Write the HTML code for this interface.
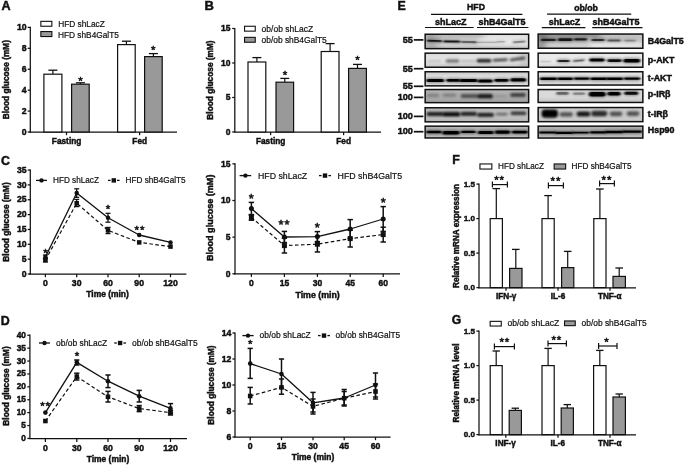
<!DOCTYPE html>
<html lang="en"><head><meta charset="utf-8"><title>Figure</title>
<style>
html,body{margin:0;padding:0;background:#fff;}
body{width:685px;height:465px;overflow:hidden;}
svg{display:block;font-family:"Liberation Sans", Arial, sans-serif;}
</style></head><body>
<svg width="685" height="465" viewBox="0 0 685 465">
<rect width="685" height="465" fill="#fff"/>
<defs>
<filter id="bl1" x="-20%" y="-200%" width="140%" height="500%"><feGaussianBlur stdDeviation="0.9 0.55"/></filter>
<filter id="bl2" x="-20%" y="-200%" width="140%" height="500%"><feGaussianBlur stdDeviation="1.4 1.2"/></filter>
<filter id="bl4" x="-20%" y="-200%" width="140%" height="500%"><feGaussianBlur stdDeviation="1.2 0.9"/></filter>
<filter id="bl3" x="-50%" y="-100%" width="200%" height="300%"><feGaussianBlur stdDeviation="3 1.6"/></filter>
</defs>
<text x="1.50" y="10.40" font-size="12.6" font-weight="700" stroke="#101010" stroke-width="0.45" text-anchor="start" fill="#101010">A</text>
<line x1="30.30" y1="26.77" x2="30.30" y2="132.62" stroke="#101010" stroke-width="1.25" stroke-linecap="butt"/>
<line x1="27.70" y1="132.00" x2="30.30" y2="132.00" stroke="#101010" stroke-width="1.25" stroke-linecap="butt"/>
<text x="26.70" y="134.61" font-size="8.7" font-weight="700" stroke="#101010" stroke-width="0.45" text-anchor="end" fill="#101010">0</text>
<line x1="27.70" y1="111.08" x2="30.30" y2="111.08" stroke="#101010" stroke-width="1.25" stroke-linecap="butt"/>
<text x="26.70" y="113.69" font-size="8.7" font-weight="700" stroke="#101010" stroke-width="0.45" text-anchor="end" fill="#101010">2</text>
<line x1="27.70" y1="90.16" x2="30.30" y2="90.16" stroke="#101010" stroke-width="1.25" stroke-linecap="butt"/>
<text x="26.70" y="92.77" font-size="8.7" font-weight="700" stroke="#101010" stroke-width="0.45" text-anchor="end" fill="#101010">4</text>
<line x1="27.70" y1="69.24" x2="30.30" y2="69.24" stroke="#101010" stroke-width="1.25" stroke-linecap="butt"/>
<text x="26.70" y="71.85" font-size="8.7" font-weight="700" stroke="#101010" stroke-width="0.45" text-anchor="end" fill="#101010">6</text>
<line x1="27.70" y1="48.32" x2="30.30" y2="48.32" stroke="#101010" stroke-width="1.25" stroke-linecap="butt"/>
<text x="26.70" y="50.93" font-size="8.7" font-weight="700" stroke="#101010" stroke-width="0.45" text-anchor="end" fill="#101010">8</text>
<line x1="27.70" y1="27.40" x2="30.30" y2="27.40" stroke="#101010" stroke-width="1.25" stroke-linecap="butt"/>
<text x="26.70" y="30.01" font-size="8.7" font-weight="700" stroke="#101010" stroke-width="0.45" text-anchor="end" fill="#101010">10</text>
<line x1="29.38" y1="132.15" x2="177.00" y2="132.15" stroke="#101010" stroke-width="1.25" stroke-linecap="butt"/>
<line x1="66.50" y1="132.00" x2="66.50" y2="135.15" stroke="#101010" stroke-width="1.25" stroke-linecap="butt"/>
<line x1="139.60" y1="132.00" x2="139.60" y2="135.15" stroke="#101010" stroke-width="1.25" stroke-linecap="butt"/>
<text x="9.20" y="79.70" font-size="8.3" font-weight="700" stroke="#101010" stroke-width="0.45" text-anchor="middle" transform="rotate(-90 9.20 79.70)" fill="#101010">Blood glucose (mM)</text>
<text x="66.60" y="144.00" font-size="8.3" font-weight="700" stroke="#101010" stroke-width="0.45" text-anchor="middle" fill="#101010">Fasting</text>
<text x="139.70" y="144.00" font-size="8.3" font-weight="700" stroke="#101010" stroke-width="0.45" text-anchor="middle" fill="#101010">Fed</text>
<line x1="52.90" y1="70.20" x2="52.90" y2="74.20" stroke="#101010" stroke-width="1.2" stroke-linecap="butt"/>
<line x1="48.40" y1="70.20" x2="57.40" y2="70.20" stroke="#101010" stroke-width="1.3" stroke-linecap="butt"/>
<rect x="43.90" y="74.20" width="18.00" height="57.80" fill="#fff" stroke="#101010" stroke-width="1.2"/>
<line x1="80.40" y1="82.80" x2="80.40" y2="84.20" stroke="#101010" stroke-width="1.2" stroke-linecap="butt"/>
<line x1="75.90" y1="82.80" x2="84.90" y2="82.80" stroke="#101010" stroke-width="1.3" stroke-linecap="butt"/>
<rect x="71.60" y="84.20" width="17.60" height="47.80" fill="#999999" stroke="#101010" stroke-width="1.2"/>
<line x1="126.40" y1="41.20" x2="126.40" y2="44.60" stroke="#101010" stroke-width="1.2" stroke-linecap="butt"/>
<line x1="121.90" y1="41.20" x2="130.90" y2="41.20" stroke="#101010" stroke-width="1.3" stroke-linecap="butt"/>
<rect x="117.60" y="44.60" width="17.60" height="87.40" fill="#fff" stroke="#101010" stroke-width="1.2"/>
<line x1="153.40" y1="53.60" x2="153.40" y2="56.60" stroke="#101010" stroke-width="1.2" stroke-linecap="butt"/>
<line x1="148.90" y1="53.60" x2="157.90" y2="53.60" stroke="#101010" stroke-width="1.3" stroke-linecap="butt"/>
<rect x="144.60" y="56.60" width="17.60" height="75.40" fill="#999999" stroke="#101010" stroke-width="1.2"/>
<text x="80.40" y="84.76" font-size="11.5" stroke="#101010" text-anchor="middle" fill="#101010" stroke-width="0.5">*</text>
<text x="153.20" y="54.35" font-size="11.5" stroke="#101010" text-anchor="middle" fill="#101010" stroke-width="0.5">*</text>
<rect x="40.85" y="21.35" width="11.00" height="4.90" fill="#fff" stroke="#101010" stroke-width="1.1"/>
<rect x="40.85" y="31.55" width="11.00" height="5.00" fill="#999999" stroke="#101010" stroke-width="1.1"/>
<text x="58.20" y="27.00" font-size="8.3" stroke="#101010" stroke-width="0.2" text-anchor="start" fill="#101010">HFD shLacZ</text>
<text x="58.00" y="37.60" font-size="8.3" stroke="#101010" stroke-width="0.2" text-anchor="start" fill="#101010">HFD shB4GalT5</text>
<text x="204.60" y="10.40" font-size="13" font-weight="700" stroke="#101010" stroke-width="0.45" text-anchor="start" fill="#101010">B</text>
<line x1="234.80" y1="27.88" x2="234.80" y2="132.62" stroke="#101010" stroke-width="1.25" stroke-linecap="butt"/>
<line x1="232.20" y1="132.00" x2="234.80" y2="132.00" stroke="#101010" stroke-width="1.25" stroke-linecap="butt"/>
<text x="230.40" y="134.55" font-size="8.5" font-weight="700" stroke="#101010" stroke-width="0.45" text-anchor="end" fill="#101010">0</text>
<line x1="232.20" y1="97.50" x2="234.80" y2="97.50" stroke="#101010" stroke-width="1.25" stroke-linecap="butt"/>
<text x="230.40" y="100.05" font-size="8.5" font-weight="700" stroke="#101010" stroke-width="0.45" text-anchor="end" fill="#101010">5</text>
<line x1="232.20" y1="63.00" x2="234.80" y2="63.00" stroke="#101010" stroke-width="1.25" stroke-linecap="butt"/>
<text x="230.40" y="65.55" font-size="8.5" font-weight="700" stroke="#101010" stroke-width="0.45" text-anchor="end" fill="#101010">10</text>
<line x1="232.20" y1="28.50" x2="234.80" y2="28.50" stroke="#101010" stroke-width="1.25" stroke-linecap="butt"/>
<text x="230.40" y="31.05" font-size="8.5" font-weight="700" stroke="#101010" stroke-width="0.45" text-anchor="end" fill="#101010">15</text>
<line x1="234.38" y1="132.15" x2="381.00" y2="132.15" stroke="#101010" stroke-width="1.25" stroke-linecap="butt"/>
<line x1="270.60" y1="132.00" x2="270.60" y2="135.15" stroke="#101010" stroke-width="1.25" stroke-linecap="butt"/>
<line x1="343.60" y1="132.00" x2="343.60" y2="135.15" stroke="#101010" stroke-width="1.25" stroke-linecap="butt"/>
<text x="212.50" y="80.00" font-size="8.3" font-weight="700" stroke="#101010" stroke-width="0.45" text-anchor="middle" transform="rotate(-90 212.50 80.00)" fill="#101010">Blood glucose (mM)</text>
<text x="270.70" y="143.70" font-size="8.3" font-weight="700" stroke="#101010" stroke-width="0.45" text-anchor="middle" fill="#101010">Fasting</text>
<text x="343.60" y="143.70" font-size="8.3" font-weight="700" stroke="#101010" stroke-width="0.45" text-anchor="middle" fill="#101010">Fed</text>
<line x1="256.90" y1="57.60" x2="256.90" y2="62.00" stroke="#101010" stroke-width="1.2" stroke-linecap="butt"/>
<line x1="252.40" y1="57.60" x2="261.40" y2="57.60" stroke="#101010" stroke-width="1.3" stroke-linecap="butt"/>
<rect x="248.00" y="62.00" width="17.80" height="70.00" fill="#fff" stroke="#101010" stroke-width="1.2"/>
<line x1="284.80" y1="78.40" x2="284.80" y2="82.20" stroke="#101010" stroke-width="1.2" stroke-linecap="butt"/>
<line x1="280.30" y1="78.40" x2="289.30" y2="78.40" stroke="#101010" stroke-width="1.3" stroke-linecap="butt"/>
<rect x="276.00" y="82.20" width="17.60" height="49.80" fill="#999999" stroke="#101010" stroke-width="1.2"/>
<line x1="330.10" y1="43.60" x2="330.10" y2="51.50" stroke="#101010" stroke-width="1.2" stroke-linecap="butt"/>
<line x1="325.60" y1="43.60" x2="334.60" y2="43.60" stroke="#101010" stroke-width="1.3" stroke-linecap="butt"/>
<rect x="321.20" y="51.50" width="17.80" height="80.50" fill="#fff" stroke="#101010" stroke-width="1.2"/>
<line x1="357.50" y1="64.40" x2="357.50" y2="68.40" stroke="#101010" stroke-width="1.2" stroke-linecap="butt"/>
<line x1="353.00" y1="64.40" x2="362.00" y2="64.40" stroke="#101010" stroke-width="1.3" stroke-linecap="butt"/>
<rect x="348.60" y="68.40" width="17.80" height="63.60" fill="#999999" stroke="#101010" stroke-width="1.2"/>
<text x="285.00" y="79.36" font-size="11.5" stroke="#101010" text-anchor="middle" fill="#101010" stroke-width="0.5">*</text>
<text x="357.40" y="63.95" font-size="11.5" stroke="#101010" text-anchor="middle" fill="#101010" stroke-width="0.5">*</text>
<rect x="244.55" y="26.25" width="10.70" height="4.90" fill="#fff" stroke="#101010" stroke-width="1.1"/>
<rect x="244.55" y="37.35" width="10.70" height="4.90" fill="#999999" stroke="#101010" stroke-width="1.1"/>
<text x="261.60" y="31.70" font-size="8.5" stroke="#101010" stroke-width="0.2" text-anchor="start" fill="#101010">ob/ob shLacZ</text>
<text x="261.60" y="42.80" font-size="8.4" stroke="#101010" stroke-width="0.2" text-anchor="start" fill="#101010">ob/ob shB4GalT5</text>
<text x="1.00" y="165.00" font-size="12.4" font-weight="700" stroke="#101010" stroke-width="0.45" text-anchor="start" fill="#101010">C</text>
<line x1="30.30" y1="169.43" x2="30.30" y2="274.62" stroke="#101010" stroke-width="1.25" stroke-linecap="butt"/>
<line x1="27.70" y1="274.00" x2="30.30" y2="274.00" stroke="#101010" stroke-width="1.25" stroke-linecap="butt"/>
<text x="26.70" y="276.61" font-size="8.7" font-weight="700" stroke="#101010" stroke-width="0.45" text-anchor="end" fill="#101010">0</text>
<line x1="27.70" y1="259.15" x2="30.30" y2="259.15" stroke="#101010" stroke-width="1.25" stroke-linecap="butt"/>
<text x="26.70" y="261.76" font-size="8.7" font-weight="700" stroke="#101010" stroke-width="0.45" text-anchor="end" fill="#101010">5</text>
<line x1="27.70" y1="244.30" x2="30.30" y2="244.30" stroke="#101010" stroke-width="1.25" stroke-linecap="butt"/>
<text x="26.70" y="246.91" font-size="8.7" font-weight="700" stroke="#101010" stroke-width="0.45" text-anchor="end" fill="#101010">10</text>
<line x1="27.70" y1="229.45" x2="30.30" y2="229.45" stroke="#101010" stroke-width="1.25" stroke-linecap="butt"/>
<text x="26.70" y="232.06" font-size="8.7" font-weight="700" stroke="#101010" stroke-width="0.45" text-anchor="end" fill="#101010">15</text>
<line x1="27.70" y1="214.60" x2="30.30" y2="214.60" stroke="#101010" stroke-width="1.25" stroke-linecap="butt"/>
<text x="26.70" y="217.21" font-size="8.7" font-weight="700" stroke="#101010" stroke-width="0.45" text-anchor="end" fill="#101010">20</text>
<line x1="27.70" y1="199.75" x2="30.30" y2="199.75" stroke="#101010" stroke-width="1.25" stroke-linecap="butt"/>
<text x="26.70" y="202.36" font-size="8.7" font-weight="700" stroke="#101010" stroke-width="0.45" text-anchor="end" fill="#101010">25</text>
<line x1="27.70" y1="184.90" x2="30.30" y2="184.90" stroke="#101010" stroke-width="1.25" stroke-linecap="butt"/>
<text x="26.70" y="187.51" font-size="8.7" font-weight="700" stroke="#101010" stroke-width="0.45" text-anchor="end" fill="#101010">30</text>
<line x1="27.70" y1="170.05" x2="30.30" y2="170.05" stroke="#101010" stroke-width="1.25" stroke-linecap="butt"/>
<text x="26.70" y="172.66" font-size="8.7" font-weight="700" stroke="#101010" stroke-width="0.45" text-anchor="end" fill="#101010">35</text>
<line x1="29.38" y1="274.15" x2="186.40" y2="274.15" stroke="#101010" stroke-width="1.25" stroke-linecap="butt"/>
<line x1="45.40" y1="274.00" x2="45.40" y2="277.15" stroke="#101010" stroke-width="1.25" stroke-linecap="butt"/>
<text x="45.40" y="285.70" font-size="8.7" font-weight="700" stroke="#101010" stroke-width="0.45" text-anchor="middle" fill="#101010">0</text>
<line x1="76.70" y1="274.00" x2="76.70" y2="277.15" stroke="#101010" stroke-width="1.25" stroke-linecap="butt"/>
<text x="76.70" y="285.70" font-size="8.7" font-weight="700" stroke="#101010" stroke-width="0.45" text-anchor="middle" fill="#101010">30</text>
<line x1="108.00" y1="274.00" x2="108.00" y2="277.15" stroke="#101010" stroke-width="1.25" stroke-linecap="butt"/>
<text x="108.00" y="285.70" font-size="8.7" font-weight="700" stroke="#101010" stroke-width="0.45" text-anchor="middle" fill="#101010">60</text>
<line x1="139.20" y1="274.00" x2="139.20" y2="277.15" stroke="#101010" stroke-width="1.25" stroke-linecap="butt"/>
<text x="139.20" y="285.70" font-size="8.7" font-weight="700" stroke="#101010" stroke-width="0.45" text-anchor="middle" fill="#101010">90</text>
<line x1="170.50" y1="274.00" x2="170.50" y2="277.15" stroke="#101010" stroke-width="1.25" stroke-linecap="butt"/>
<text x="170.50" y="285.70" font-size="8.7" font-weight="700" stroke="#101010" stroke-width="0.45" text-anchor="middle" fill="#101010">120</text>
<text x="9.20" y="222.00" font-size="8.3" font-weight="700" stroke="#101010" stroke-width="0.45" text-anchor="middle" transform="rotate(-90 9.20 222.00)" fill="#101010">Blood glucose (mM)</text>
<text x="107.60" y="296.60" font-size="8.45" font-weight="700" stroke="#101010" stroke-width="0.45" text-anchor="middle" fill="#101010">Time (min)</text>
<polyline points="45.40,260.00 76.70,203.20 108.00,230.40 139.20,242.40 170.50,246.60" fill="none" stroke="#101010" stroke-width="1.2" stroke-dasharray="3.6 2.4" stroke-linejoin="round"/>
<polyline points="45.40,257.00 76.70,193.00 108.00,217.80 139.20,235.00 170.50,242.40" fill="none" stroke="#101010" stroke-width="1.3" stroke-linejoin="round"/>
<line x1="45.40" y1="258.00" x2="45.40" y2="262.00" stroke="#101010" stroke-width="1.25" stroke-linecap="butt"/>
<line x1="42.90" y1="258.00" x2="47.90" y2="258.00" stroke="#101010" stroke-width="1.25" stroke-linecap="butt"/>
<line x1="42.90" y1="262.00" x2="47.90" y2="262.00" stroke="#101010" stroke-width="1.25" stroke-linecap="butt"/>
<rect x="43.15" y="257.75" width="4.5" height="4.5" fill="#101010"/>
<line x1="76.70" y1="199.40" x2="76.70" y2="206.60" stroke="#101010" stroke-width="1.25" stroke-linecap="butt"/>
<line x1="74.20" y1="199.40" x2="79.20" y2="199.40" stroke="#101010" stroke-width="1.25" stroke-linecap="butt"/>
<line x1="74.20" y1="206.60" x2="79.20" y2="206.60" stroke="#101010" stroke-width="1.25" stroke-linecap="butt"/>
<rect x="74.45" y="200.95" width="4.5" height="4.5" fill="#101010"/>
<line x1="108.00" y1="227.40" x2="108.00" y2="233.60" stroke="#101010" stroke-width="1.25" stroke-linecap="butt"/>
<line x1="105.50" y1="227.40" x2="110.50" y2="227.40" stroke="#101010" stroke-width="1.25" stroke-linecap="butt"/>
<line x1="105.50" y1="233.60" x2="110.50" y2="233.60" stroke="#101010" stroke-width="1.25" stroke-linecap="butt"/>
<rect x="105.75" y="228.15" width="4.5" height="4.5" fill="#101010"/>
<rect x="136.95" y="240.15" width="4.5" height="4.5" fill="#101010"/>
<rect x="168.25" y="244.35" width="4.5" height="4.5" fill="#101010"/>
<line x1="45.40" y1="255.00" x2="45.40" y2="259.00" stroke="#101010" stroke-width="1.25" stroke-linecap="butt"/>
<line x1="42.90" y1="255.00" x2="47.90" y2="255.00" stroke="#101010" stroke-width="1.25" stroke-linecap="butt"/>
<line x1="42.90" y1="259.00" x2="47.90" y2="259.00" stroke="#101010" stroke-width="1.25" stroke-linecap="butt"/>
<circle cx="45.40" cy="257.00" r="2.25" fill="#101010"/>
<line x1="76.70" y1="188.80" x2="76.70" y2="197.40" stroke="#101010" stroke-width="1.25" stroke-linecap="butt"/>
<line x1="74.20" y1="188.80" x2="79.20" y2="188.80" stroke="#101010" stroke-width="1.25" stroke-linecap="butt"/>
<line x1="74.20" y1="197.40" x2="79.20" y2="197.40" stroke="#101010" stroke-width="1.25" stroke-linecap="butt"/>
<circle cx="76.70" cy="193.00" r="2.25" fill="#101010"/>
<line x1="108.00" y1="213.30" x2="108.00" y2="222.20" stroke="#101010" stroke-width="1.25" stroke-linecap="butt"/>
<line x1="105.50" y1="213.30" x2="110.50" y2="213.30" stroke="#101010" stroke-width="1.25" stroke-linecap="butt"/>
<line x1="105.50" y1="222.20" x2="110.50" y2="222.20" stroke="#101010" stroke-width="1.25" stroke-linecap="butt"/>
<circle cx="108.00" cy="217.80" r="2.25" fill="#101010"/>
<circle cx="139.20" cy="235.00" r="2.25" fill="#101010"/>
<circle cx="170.50" cy="242.40" r="2.25" fill="#101010"/>
<text x="45.40" y="257.36" font-size="11.5" stroke="#101010" text-anchor="middle" fill="#101010" stroke-width="0.5">*</text>
<text x="108.00" y="213.36" font-size="11.5" stroke="#101010" text-anchor="middle" fill="#101010" stroke-width="0.5">*</text>
<text x="140.00" y="234.36" font-size="11.5" stroke="#101010" text-anchor="middle" fill="#101010" stroke-width="0.5" letter-spacing="0.9">**</text>
<line x1="36.00" y1="180.40" x2="47.00" y2="180.40" stroke="#101010" stroke-width="1.3" stroke-linecap="butt"/>
<circle cx="41.50" cy="180.40" r="2.2" fill="#101010"/>
<text x="53.00" y="182.80" font-size="8.2" stroke="#101010" stroke-width="0.2" text-anchor="start" fill="#101010">HFD shLacZ</text>
<line x1="108.00" y1="180.40" x2="110.60" y2="180.40" stroke="#101010" stroke-width="1.3" stroke-linecap="butt"/>
<line x1="117.00" y1="180.40" x2="119.60" y2="180.40" stroke="#101010" stroke-width="1.3" stroke-linecap="butt"/>
<rect x="111.60" y="178.20" width="4.4" height="4.4" fill="#101010"/>
<text x="125.60" y="182.80" font-size="8.2" stroke="#101010" stroke-width="0.2" text-anchor="start" fill="#101010">HFD shB4GalT5</text>
<line x1="235.00" y1="163.23" x2="235.00" y2="274.43" stroke="#101010" stroke-width="1.25" stroke-linecap="butt"/>
<line x1="232.40" y1="273.80" x2="235.00" y2="273.80" stroke="#101010" stroke-width="1.25" stroke-linecap="butt"/>
<text x="0.00" y="0.00" font-size="9.5" font-weight="700" stroke="#101010" stroke-width="0.45" text-anchor="end" transform="translate(230.60 276.65) scale(0.9 1)" fill="#101010">0</text>
<line x1="232.40" y1="237.15" x2="235.00" y2="237.15" stroke="#101010" stroke-width="1.25" stroke-linecap="butt"/>
<text x="0.00" y="0.00" font-size="9.5" font-weight="700" stroke="#101010" stroke-width="0.45" text-anchor="end" transform="translate(230.60 240.00) scale(0.9 1)" fill="#101010">5</text>
<line x1="232.40" y1="200.50" x2="235.00" y2="200.50" stroke="#101010" stroke-width="1.25" stroke-linecap="butt"/>
<text x="0.00" y="0.00" font-size="9.5" font-weight="700" stroke="#101010" stroke-width="0.45" text-anchor="end" transform="translate(230.60 203.35) scale(0.9 1)" fill="#101010">10</text>
<line x1="232.40" y1="163.85" x2="235.00" y2="163.85" stroke="#101010" stroke-width="1.25" stroke-linecap="butt"/>
<text x="0.00" y="0.00" font-size="9.5" font-weight="700" stroke="#101010" stroke-width="0.45" text-anchor="end" transform="translate(230.60 166.70) scale(0.9 1)" fill="#101010">15</text>
<line x1="234.38" y1="273.95" x2="400.00" y2="273.95" stroke="#101010" stroke-width="1.25" stroke-linecap="butt"/>
<line x1="251.40" y1="273.80" x2="251.40" y2="276.95" stroke="#101010" stroke-width="1.25" stroke-linecap="butt"/>
<text x="0.00" y="0.00" font-size="9.6" font-weight="700" stroke="#101010" stroke-width="0.45" text-anchor="middle" transform="translate(251.40 286.40) scale(0.89 1)" fill="#101010">0</text>
<line x1="284.40" y1="273.80" x2="284.40" y2="276.95" stroke="#101010" stroke-width="1.25" stroke-linecap="butt"/>
<text x="0.00" y="0.00" font-size="9.6" font-weight="700" stroke="#101010" stroke-width="0.45" text-anchor="middle" transform="translate(284.40 286.40) scale(0.89 1)" fill="#101010">15</text>
<line x1="317.40" y1="273.80" x2="317.40" y2="276.95" stroke="#101010" stroke-width="1.25" stroke-linecap="butt"/>
<text x="0.00" y="0.00" font-size="9.6" font-weight="700" stroke="#101010" stroke-width="0.45" text-anchor="middle" transform="translate(317.40 286.40) scale(0.89 1)" fill="#101010">30</text>
<line x1="350.20" y1="273.80" x2="350.20" y2="276.95" stroke="#101010" stroke-width="1.25" stroke-linecap="butt"/>
<text x="0.00" y="0.00" font-size="9.6" font-weight="700" stroke="#101010" stroke-width="0.45" text-anchor="middle" transform="translate(350.20 286.40) scale(0.89 1)" fill="#101010">45</text>
<line x1="383.20" y1="273.80" x2="383.20" y2="276.95" stroke="#101010" stroke-width="1.25" stroke-linecap="butt"/>
<text x="0.00" y="0.00" font-size="9.6" font-weight="700" stroke="#101010" stroke-width="0.45" text-anchor="middle" transform="translate(383.20 286.40) scale(0.89 1)" fill="#101010">60</text>
<text x="213.40" y="217.80" font-size="9.05" font-weight="700" stroke="#101010" stroke-width="0.45" text-anchor="middle" transform="rotate(-90 213.40 217.80)" fill="#101010">Blood glucose (mM)</text>
<text x="317.60" y="297.60" font-size="8.8" font-weight="700" stroke="#101010" stroke-width="0.45" text-anchor="middle" fill="#101010">Time (min)</text>
<polyline points="251.40,217.40 284.40,245.60 317.40,244.20 350.20,238.60 383.20,234.60" fill="none" stroke="#101010" stroke-width="1.2" stroke-dasharray="3.6 2.4" stroke-linejoin="round"/>
<polyline points="251.40,208.60 284.40,237.00 317.40,236.60 350.20,229.00 383.20,219.00" fill="none" stroke="#101010" stroke-width="1.3" stroke-linejoin="round"/>
<line x1="251.40" y1="214.60" x2="251.40" y2="220.20" stroke="#101010" stroke-width="1.5" stroke-linecap="butt"/>
<line x1="248.70" y1="214.60" x2="254.10" y2="214.60" stroke="#101010" stroke-width="1.5" stroke-linecap="butt"/>
<line x1="248.70" y1="220.20" x2="254.10" y2="220.20" stroke="#101010" stroke-width="1.5" stroke-linecap="butt"/>
<rect x="248.90" y="214.90" width="5" height="5" fill="#101010"/>
<line x1="284.40" y1="238.20" x2="284.40" y2="253.00" stroke="#101010" stroke-width="1.5" stroke-linecap="butt"/>
<line x1="281.70" y1="238.20" x2="287.10" y2="238.20" stroke="#101010" stroke-width="1.5" stroke-linecap="butt"/>
<line x1="281.70" y1="253.00" x2="287.10" y2="253.00" stroke="#101010" stroke-width="1.5" stroke-linecap="butt"/>
<rect x="281.90" y="243.10" width="5" height="5" fill="#101010"/>
<line x1="317.40" y1="236.40" x2="317.40" y2="252.00" stroke="#101010" stroke-width="1.5" stroke-linecap="butt"/>
<line x1="314.70" y1="236.40" x2="320.10" y2="236.40" stroke="#101010" stroke-width="1.5" stroke-linecap="butt"/>
<line x1="314.70" y1="252.00" x2="320.10" y2="252.00" stroke="#101010" stroke-width="1.5" stroke-linecap="butt"/>
<rect x="314.90" y="241.70" width="5" height="5" fill="#101010"/>
<line x1="350.20" y1="230.20" x2="350.20" y2="247.00" stroke="#101010" stroke-width="1.5" stroke-linecap="butt"/>
<line x1="347.50" y1="230.20" x2="352.90" y2="230.20" stroke="#101010" stroke-width="1.5" stroke-linecap="butt"/>
<line x1="347.50" y1="247.00" x2="352.90" y2="247.00" stroke="#101010" stroke-width="1.5" stroke-linecap="butt"/>
<rect x="347.70" y="236.10" width="5" height="5" fill="#101010"/>
<line x1="383.20" y1="227.20" x2="383.20" y2="242.00" stroke="#101010" stroke-width="1.5" stroke-linecap="butt"/>
<line x1="380.50" y1="227.20" x2="385.90" y2="227.20" stroke="#101010" stroke-width="1.5" stroke-linecap="butt"/>
<line x1="380.50" y1="242.00" x2="385.90" y2="242.00" stroke="#101010" stroke-width="1.5" stroke-linecap="butt"/>
<rect x="380.70" y="232.10" width="5" height="5" fill="#101010"/>
<line x1="251.40" y1="202.40" x2="251.40" y2="214.80" stroke="#101010" stroke-width="1.5" stroke-linecap="butt"/>
<line x1="248.70" y1="202.40" x2="254.10" y2="202.40" stroke="#101010" stroke-width="1.5" stroke-linecap="butt"/>
<line x1="248.70" y1="214.80" x2="254.10" y2="214.80" stroke="#101010" stroke-width="1.5" stroke-linecap="butt"/>
<circle cx="251.40" cy="208.60" r="2.5" fill="#101010"/>
<line x1="284.40" y1="231.40" x2="284.40" y2="242.60" stroke="#101010" stroke-width="1.5" stroke-linecap="butt"/>
<line x1="281.70" y1="231.40" x2="287.10" y2="231.40" stroke="#101010" stroke-width="1.5" stroke-linecap="butt"/>
<line x1="281.70" y1="242.60" x2="287.10" y2="242.60" stroke="#101010" stroke-width="1.5" stroke-linecap="butt"/>
<circle cx="284.40" cy="237.00" r="2.5" fill="#101010"/>
<line x1="317.40" y1="231.60" x2="317.40" y2="241.60" stroke="#101010" stroke-width="1.5" stroke-linecap="butt"/>
<line x1="314.70" y1="231.60" x2="320.10" y2="231.60" stroke="#101010" stroke-width="1.5" stroke-linecap="butt"/>
<line x1="314.70" y1="241.60" x2="320.10" y2="241.60" stroke="#101010" stroke-width="1.5" stroke-linecap="butt"/>
<circle cx="317.40" cy="236.60" r="2.5" fill="#101010"/>
<line x1="350.20" y1="219.60" x2="350.20" y2="238.40" stroke="#101010" stroke-width="1.5" stroke-linecap="butt"/>
<line x1="347.50" y1="219.60" x2="352.90" y2="219.60" stroke="#101010" stroke-width="1.5" stroke-linecap="butt"/>
<line x1="347.50" y1="238.40" x2="352.90" y2="238.40" stroke="#101010" stroke-width="1.5" stroke-linecap="butt"/>
<circle cx="350.20" cy="229.00" r="2.5" fill="#101010"/>
<line x1="383.20" y1="206.60" x2="383.20" y2="231.40" stroke="#101010" stroke-width="1.5" stroke-linecap="butt"/>
<line x1="380.50" y1="206.60" x2="385.90" y2="206.60" stroke="#101010" stroke-width="1.5" stroke-linecap="butt"/>
<line x1="380.50" y1="231.40" x2="385.90" y2="231.40" stroke="#101010" stroke-width="1.5" stroke-linecap="butt"/>
<circle cx="383.20" cy="219.00" r="2.5" fill="#101010"/>
<text x="251.40" y="203.21" font-size="13" stroke="#101010" text-anchor="middle" fill="#101010" stroke-width="0.5">*</text>
<text x="284.40" y="228.61" font-size="13" stroke="#101010" text-anchor="middle" fill="#101010" stroke-width="0.5" letter-spacing="0.9">**</text>
<text x="317.40" y="231.61" font-size="13" stroke="#101010" text-anchor="middle" fill="#101010" stroke-width="0.5">*</text>
<text x="383.20" y="206.81" font-size="13" stroke="#101010" text-anchor="middle" fill="#101010" stroke-width="0.5">*</text>
<line x1="239.60" y1="175.60" x2="251.20" y2="175.60" stroke="#101010" stroke-width="1.3" stroke-linecap="butt"/>
<circle cx="245.40" cy="175.60" r="2.2" fill="#101010"/>
<text x="258.00" y="178.60" font-size="8.75" stroke="#101010" stroke-width="0.2" text-anchor="start" fill="#101010">HFD shLacZ</text>
<line x1="319.00" y1="175.60" x2="321.60" y2="175.60" stroke="#101010" stroke-width="1.3" stroke-linecap="butt"/>
<line x1="328.40" y1="175.60" x2="331.00" y2="175.60" stroke="#101010" stroke-width="1.3" stroke-linecap="butt"/>
<rect x="322.80" y="173.40" width="4.4" height="4.4" fill="#101010"/>
<text x="337.60" y="178.60" font-size="8.8" stroke="#101010" stroke-width="0.2" text-anchor="start" fill="#101010">HFD shB4GalT5</text>
<text x="0.80" y="325.20" font-size="12.4" font-weight="700" stroke="#101010" stroke-width="0.45" text-anchor="start" fill="#101010">D</text>
<line x1="29.90" y1="334.62" x2="29.90" y2="439.07" stroke="#101010" stroke-width="1.25" stroke-linecap="butt"/>
<line x1="27.30" y1="438.45" x2="29.90" y2="438.45" stroke="#101010" stroke-width="1.25" stroke-linecap="butt"/>
<text x="25.90" y="440.94" font-size="8.3" font-weight="700" stroke="#101010" stroke-width="0.45" text-anchor="end" fill="#101010">0</text>
<line x1="27.30" y1="425.55" x2="29.90" y2="425.55" stroke="#101010" stroke-width="1.25" stroke-linecap="butt"/>
<text x="25.90" y="428.04" font-size="8.3" font-weight="700" stroke="#101010" stroke-width="0.45" text-anchor="end" fill="#101010">5</text>
<line x1="27.30" y1="412.65" x2="29.90" y2="412.65" stroke="#101010" stroke-width="1.25" stroke-linecap="butt"/>
<text x="25.90" y="415.14" font-size="8.3" font-weight="700" stroke="#101010" stroke-width="0.45" text-anchor="end" fill="#101010">10</text>
<line x1="27.30" y1="399.75" x2="29.90" y2="399.75" stroke="#101010" stroke-width="1.25" stroke-linecap="butt"/>
<text x="25.90" y="402.24" font-size="8.3" font-weight="700" stroke="#101010" stroke-width="0.45" text-anchor="end" fill="#101010">15</text>
<line x1="27.30" y1="386.85" x2="29.90" y2="386.85" stroke="#101010" stroke-width="1.25" stroke-linecap="butt"/>
<text x="25.90" y="389.34" font-size="8.3" font-weight="700" stroke="#101010" stroke-width="0.45" text-anchor="end" fill="#101010">20</text>
<line x1="27.30" y1="373.95" x2="29.90" y2="373.95" stroke="#101010" stroke-width="1.25" stroke-linecap="butt"/>
<text x="25.90" y="376.44" font-size="8.3" font-weight="700" stroke="#101010" stroke-width="0.45" text-anchor="end" fill="#101010">25</text>
<line x1="27.30" y1="361.05" x2="29.90" y2="361.05" stroke="#101010" stroke-width="1.25" stroke-linecap="butt"/>
<text x="25.90" y="363.54" font-size="8.3" font-weight="700" stroke="#101010" stroke-width="0.45" text-anchor="end" fill="#101010">30</text>
<line x1="27.30" y1="348.15" x2="29.90" y2="348.15" stroke="#101010" stroke-width="1.25" stroke-linecap="butt"/>
<text x="25.90" y="350.64" font-size="8.3" font-weight="700" stroke="#101010" stroke-width="0.45" text-anchor="end" fill="#101010">35</text>
<line x1="27.30" y1="335.25" x2="29.90" y2="335.25" stroke="#101010" stroke-width="1.25" stroke-linecap="butt"/>
<text x="25.90" y="337.74" font-size="8.3" font-weight="700" stroke="#101010" stroke-width="0.45" text-anchor="end" fill="#101010">40</text>
<line x1="29.38" y1="438.60" x2="187.00" y2="438.60" stroke="#101010" stroke-width="1.25" stroke-linecap="butt"/>
<line x1="45.40" y1="438.45" x2="45.40" y2="442.00" stroke="#101010" stroke-width="1.25" stroke-linecap="butt"/>
<text x="45.40" y="450.65" font-size="8.7" font-weight="700" stroke="#101010" stroke-width="0.45" text-anchor="middle" fill="#101010">0</text>
<line x1="76.80" y1="438.45" x2="76.80" y2="442.00" stroke="#101010" stroke-width="1.25" stroke-linecap="butt"/>
<text x="76.80" y="450.65" font-size="8.7" font-weight="700" stroke="#101010" stroke-width="0.45" text-anchor="middle" fill="#101010">30</text>
<line x1="108.00" y1="438.45" x2="108.00" y2="442.00" stroke="#101010" stroke-width="1.25" stroke-linecap="butt"/>
<text x="108.00" y="450.65" font-size="8.7" font-weight="700" stroke="#101010" stroke-width="0.45" text-anchor="middle" fill="#101010">60</text>
<line x1="139.20" y1="438.45" x2="139.20" y2="442.00" stroke="#101010" stroke-width="1.25" stroke-linecap="butt"/>
<text x="139.20" y="450.65" font-size="8.7" font-weight="700" stroke="#101010" stroke-width="0.45" text-anchor="middle" fill="#101010">90</text>
<line x1="170.50" y1="438.45" x2="170.50" y2="442.00" stroke="#101010" stroke-width="1.25" stroke-linecap="butt"/>
<text x="170.50" y="450.65" font-size="8.7" font-weight="700" stroke="#101010" stroke-width="0.45" text-anchor="middle" fill="#101010">120</text>
<text x="9.20" y="386.00" font-size="8.3" font-weight="700" stroke="#101010" stroke-width="0.45" text-anchor="middle" transform="rotate(-90 9.20 386.00)" fill="#101010">Blood glucose (mM)</text>
<text x="108.00" y="462.00" font-size="8.45" font-weight="700" stroke="#101010" stroke-width="0.45" text-anchor="middle" fill="#101010">Time (min)</text>
<polyline points="45.40,421.00 76.80,376.60 108.00,396.80 139.20,408.60 170.50,412.60" fill="none" stroke="#101010" stroke-width="1.2" stroke-dasharray="3.6 2.4" stroke-linejoin="round"/>
<polyline points="45.40,412.60 76.80,362.40 108.00,381.20 139.20,396.20 170.50,408.40" fill="none" stroke="#101010" stroke-width="1.3" stroke-linejoin="round"/>
<rect x="43.10" y="418.70" width="4.6" height="4.6" fill="#101010"/>
<line x1="76.80" y1="373.20" x2="76.80" y2="380.00" stroke="#101010" stroke-width="1.5" stroke-linecap="butt"/>
<line x1="74.20" y1="373.20" x2="79.40" y2="373.20" stroke="#101010" stroke-width="1.5" stroke-linecap="butt"/>
<line x1="74.20" y1="380.00" x2="79.40" y2="380.00" stroke="#101010" stroke-width="1.5" stroke-linecap="butt"/>
<rect x="74.50" y="374.30" width="4.6" height="4.6" fill="#101010"/>
<line x1="108.00" y1="391.40" x2="108.00" y2="402.00" stroke="#101010" stroke-width="1.5" stroke-linecap="butt"/>
<line x1="105.40" y1="391.40" x2="110.60" y2="391.40" stroke="#101010" stroke-width="1.5" stroke-linecap="butt"/>
<line x1="105.40" y1="402.00" x2="110.60" y2="402.00" stroke="#101010" stroke-width="1.5" stroke-linecap="butt"/>
<rect x="105.70" y="394.50" width="4.6" height="4.6" fill="#101010"/>
<line x1="139.20" y1="405.60" x2="139.20" y2="411.60" stroke="#101010" stroke-width="1.5" stroke-linecap="butt"/>
<line x1="136.60" y1="405.60" x2="141.80" y2="405.60" stroke="#101010" stroke-width="1.5" stroke-linecap="butt"/>
<line x1="136.60" y1="411.60" x2="141.80" y2="411.60" stroke="#101010" stroke-width="1.5" stroke-linecap="butt"/>
<rect x="136.90" y="406.30" width="4.6" height="4.6" fill="#101010"/>
<line x1="170.50" y1="410.40" x2="170.50" y2="415.00" stroke="#101010" stroke-width="1.5" stroke-linecap="butt"/>
<line x1="167.90" y1="410.40" x2="173.10" y2="410.40" stroke="#101010" stroke-width="1.5" stroke-linecap="butt"/>
<line x1="167.90" y1="415.00" x2="173.10" y2="415.00" stroke="#101010" stroke-width="1.5" stroke-linecap="butt"/>
<rect x="168.20" y="410.30" width="4.6" height="4.6" fill="#101010"/>
<circle cx="45.40" cy="412.60" r="2.3" fill="#101010"/>
<line x1="76.80" y1="360.00" x2="76.80" y2="365.00" stroke="#101010" stroke-width="1.5" stroke-linecap="butt"/>
<line x1="74.20" y1="360.00" x2="79.40" y2="360.00" stroke="#101010" stroke-width="1.5" stroke-linecap="butt"/>
<line x1="74.20" y1="365.00" x2="79.40" y2="365.00" stroke="#101010" stroke-width="1.5" stroke-linecap="butt"/>
<circle cx="76.80" cy="362.40" r="2.3" fill="#101010"/>
<line x1="108.00" y1="375.00" x2="108.00" y2="387.60" stroke="#101010" stroke-width="1.5" stroke-linecap="butt"/>
<line x1="105.40" y1="375.00" x2="110.60" y2="375.00" stroke="#101010" stroke-width="1.5" stroke-linecap="butt"/>
<line x1="105.40" y1="387.60" x2="110.60" y2="387.60" stroke="#101010" stroke-width="1.5" stroke-linecap="butt"/>
<circle cx="108.00" cy="381.20" r="2.3" fill="#101010"/>
<line x1="139.20" y1="390.40" x2="139.20" y2="402.00" stroke="#101010" stroke-width="1.5" stroke-linecap="butt"/>
<line x1="136.60" y1="390.40" x2="141.80" y2="390.40" stroke="#101010" stroke-width="1.5" stroke-linecap="butt"/>
<line x1="136.60" y1="402.00" x2="141.80" y2="402.00" stroke="#101010" stroke-width="1.5" stroke-linecap="butt"/>
<circle cx="139.20" cy="396.20" r="2.3" fill="#101010"/>
<line x1="170.50" y1="403.60" x2="170.50" y2="413.00" stroke="#101010" stroke-width="1.5" stroke-linecap="butt"/>
<line x1="167.90" y1="403.60" x2="173.10" y2="403.60" stroke="#101010" stroke-width="1.5" stroke-linecap="butt"/>
<line x1="167.90" y1="413.00" x2="173.10" y2="413.00" stroke="#101010" stroke-width="1.5" stroke-linecap="butt"/>
<circle cx="170.50" cy="408.40" r="2.3" fill="#101010"/>
<text x="45.60" y="409.75" font-size="11.5" stroke="#101010" text-anchor="middle" fill="#101010" stroke-width="0.5" letter-spacing="0.9">**</text>
<text x="77.00" y="360.36" font-size="11.5" stroke="#101010" text-anchor="middle" fill="#101010" stroke-width="0.5">*</text>
<line x1="39.00" y1="343.00" x2="50.00" y2="343.00" stroke="#101010" stroke-width="1.3" stroke-linecap="butt"/>
<circle cx="44.50" cy="343.00" r="2.2" fill="#101010"/>
<text x="56.00" y="345.70" font-size="8.45" stroke="#101010" stroke-width="0.2" text-anchor="start" fill="#101010">ob/ob shLacZ</text>
<line x1="114.20" y1="343.00" x2="116.80" y2="343.00" stroke="#101010" stroke-width="1.3" stroke-linecap="butt"/>
<line x1="123.40" y1="343.00" x2="126.00" y2="343.00" stroke="#101010" stroke-width="1.3" stroke-linecap="butt"/>
<rect x="117.90" y="340.80" width="4.4" height="4.4" fill="#101010"/>
<text x="132.00" y="345.70" font-size="8.45" stroke="#101010" stroke-width="0.2" text-anchor="start" fill="#101010">ob/ob shB4GalT5</text>
<line x1="235.00" y1="332.38" x2="235.00" y2="437.62" stroke="#101010" stroke-width="1.25" stroke-linecap="butt"/>
<line x1="232.40" y1="437.00" x2="235.00" y2="437.00" stroke="#101010" stroke-width="1.25" stroke-linecap="butt"/>
<text x="231.40" y="439.61" font-size="8.7" font-weight="700" stroke="#101010" stroke-width="0.45" text-anchor="end" fill="#101010">6</text>
<line x1="232.40" y1="411.00" x2="235.00" y2="411.00" stroke="#101010" stroke-width="1.25" stroke-linecap="butt"/>
<text x="231.40" y="413.61" font-size="8.7" font-weight="700" stroke="#101010" stroke-width="0.45" text-anchor="end" fill="#101010">8</text>
<line x1="232.40" y1="385.00" x2="235.00" y2="385.00" stroke="#101010" stroke-width="1.25" stroke-linecap="butt"/>
<text x="231.40" y="387.61" font-size="8.7" font-weight="700" stroke="#101010" stroke-width="0.45" text-anchor="end" fill="#101010">10</text>
<line x1="232.40" y1="359.00" x2="235.00" y2="359.00" stroke="#101010" stroke-width="1.25" stroke-linecap="butt"/>
<text x="231.40" y="361.61" font-size="8.7" font-weight="700" stroke="#101010" stroke-width="0.45" text-anchor="end" fill="#101010">12</text>
<line x1="232.40" y1="333.00" x2="235.00" y2="333.00" stroke="#101010" stroke-width="1.25" stroke-linecap="butt"/>
<text x="231.40" y="335.61" font-size="8.7" font-weight="700" stroke="#101010" stroke-width="0.45" text-anchor="end" fill="#101010">14</text>
<line x1="234.38" y1="437.15" x2="390.60" y2="437.15" stroke="#101010" stroke-width="1.25" stroke-linecap="butt"/>
<line x1="250.20" y1="437.00" x2="250.20" y2="440.15" stroke="#101010" stroke-width="1.25" stroke-linecap="butt"/>
<text x="250.20" y="448.80" font-size="8.7" font-weight="700" stroke="#101010" stroke-width="0.45" text-anchor="middle" fill="#101010">0</text>
<line x1="281.50" y1="437.00" x2="281.50" y2="440.15" stroke="#101010" stroke-width="1.25" stroke-linecap="butt"/>
<text x="281.50" y="448.80" font-size="8.7" font-weight="700" stroke="#101010" stroke-width="0.45" text-anchor="middle" fill="#101010">15</text>
<line x1="313.00" y1="437.00" x2="313.00" y2="440.15" stroke="#101010" stroke-width="1.25" stroke-linecap="butt"/>
<text x="313.00" y="448.80" font-size="8.7" font-weight="700" stroke="#101010" stroke-width="0.45" text-anchor="middle" fill="#101010">30</text>
<line x1="344.20" y1="437.00" x2="344.20" y2="440.15" stroke="#101010" stroke-width="1.25" stroke-linecap="butt"/>
<text x="344.20" y="448.80" font-size="8.7" font-weight="700" stroke="#101010" stroke-width="0.45" text-anchor="middle" fill="#101010">45</text>
<line x1="375.50" y1="437.00" x2="375.50" y2="440.15" stroke="#101010" stroke-width="1.25" stroke-linecap="butt"/>
<text x="375.50" y="448.80" font-size="8.7" font-weight="700" stroke="#101010" stroke-width="0.45" text-anchor="middle" fill="#101010">60</text>
<text x="214.20" y="385.00" font-size="8.3" font-weight="700" stroke="#101010" stroke-width="0.45" text-anchor="middle" transform="rotate(-90 214.20 385.00)" fill="#101010">Blood glucose (mM)</text>
<text x="313.00" y="459.60" font-size="8.45" font-weight="700" stroke="#101010" stroke-width="0.45" text-anchor="middle" fill="#101010">Time (min)</text>
<polyline points="250.20,396.00 281.50,387.40 313.00,406.40 344.20,398.20 375.50,391.50" fill="none" stroke="#101010" stroke-width="1.2" stroke-dasharray="3.6 2.4" stroke-linejoin="round"/>
<polyline points="250.20,363.60 281.50,374.00 313.00,402.80 344.20,398.00 375.50,385.00" fill="none" stroke="#101010" stroke-width="1.3" stroke-linejoin="round"/>
<line x1="250.20" y1="387.40" x2="250.20" y2="404.00" stroke="#101010" stroke-width="1.5" stroke-linecap="butt"/>
<line x1="247.60" y1="387.40" x2="252.80" y2="387.40" stroke="#101010" stroke-width="1.5" stroke-linecap="butt"/>
<line x1="247.60" y1="404.00" x2="252.80" y2="404.00" stroke="#101010" stroke-width="1.5" stroke-linecap="butt"/>
<rect x="247.90" y="393.70" width="4.6" height="4.6" fill="#101010"/>
<line x1="281.50" y1="379.00" x2="281.50" y2="394.20" stroke="#101010" stroke-width="1.5" stroke-linecap="butt"/>
<line x1="278.90" y1="379.00" x2="284.10" y2="379.00" stroke="#101010" stroke-width="1.5" stroke-linecap="butt"/>
<line x1="278.90" y1="394.20" x2="284.10" y2="394.20" stroke="#101010" stroke-width="1.5" stroke-linecap="butt"/>
<rect x="279.20" y="385.10" width="4.6" height="4.6" fill="#101010"/>
<line x1="313.00" y1="399.00" x2="313.00" y2="414.00" stroke="#101010" stroke-width="1.5" stroke-linecap="butt"/>
<line x1="310.40" y1="399.00" x2="315.60" y2="399.00" stroke="#101010" stroke-width="1.5" stroke-linecap="butt"/>
<line x1="310.40" y1="414.00" x2="315.60" y2="414.00" stroke="#101010" stroke-width="1.5" stroke-linecap="butt"/>
<rect x="310.70" y="404.10" width="4.6" height="4.6" fill="#101010"/>
<line x1="344.20" y1="391.50" x2="344.20" y2="405.00" stroke="#101010" stroke-width="1.5" stroke-linecap="butt"/>
<line x1="341.60" y1="391.50" x2="346.80" y2="391.50" stroke="#101010" stroke-width="1.5" stroke-linecap="butt"/>
<line x1="341.60" y1="405.00" x2="346.80" y2="405.00" stroke="#101010" stroke-width="1.5" stroke-linecap="butt"/>
<rect x="341.90" y="395.90" width="4.6" height="4.6" fill="#101010"/>
<line x1="375.50" y1="384.00" x2="375.50" y2="399.00" stroke="#101010" stroke-width="1.5" stroke-linecap="butt"/>
<line x1="372.90" y1="384.00" x2="378.10" y2="384.00" stroke="#101010" stroke-width="1.5" stroke-linecap="butt"/>
<line x1="372.90" y1="399.00" x2="378.10" y2="399.00" stroke="#101010" stroke-width="1.5" stroke-linecap="butt"/>
<rect x="373.20" y="389.20" width="4.6" height="4.6" fill="#101010"/>
<line x1="250.20" y1="348.40" x2="250.20" y2="378.40" stroke="#101010" stroke-width="1.5" stroke-linecap="butt"/>
<line x1="247.60" y1="348.40" x2="252.80" y2="348.40" stroke="#101010" stroke-width="1.5" stroke-linecap="butt"/>
<line x1="247.60" y1="378.40" x2="252.80" y2="378.40" stroke="#101010" stroke-width="1.5" stroke-linecap="butt"/>
<circle cx="250.20" cy="363.60" r="2.3" fill="#101010"/>
<line x1="281.50" y1="359.00" x2="281.50" y2="388.00" stroke="#101010" stroke-width="1.5" stroke-linecap="butt"/>
<line x1="278.90" y1="359.00" x2="284.10" y2="359.00" stroke="#101010" stroke-width="1.5" stroke-linecap="butt"/>
<line x1="278.90" y1="388.00" x2="284.10" y2="388.00" stroke="#101010" stroke-width="1.5" stroke-linecap="butt"/>
<circle cx="281.50" cy="374.00" r="2.3" fill="#101010"/>
<line x1="313.00" y1="392.40" x2="313.00" y2="412.00" stroke="#101010" stroke-width="1.5" stroke-linecap="butt"/>
<line x1="310.40" y1="392.40" x2="315.60" y2="392.40" stroke="#101010" stroke-width="1.5" stroke-linecap="butt"/>
<line x1="310.40" y1="412.00" x2="315.60" y2="412.00" stroke="#101010" stroke-width="1.5" stroke-linecap="butt"/>
<circle cx="313.00" cy="402.80" r="2.3" fill="#101010"/>
<line x1="344.20" y1="389.50" x2="344.20" y2="406.00" stroke="#101010" stroke-width="1.5" stroke-linecap="butt"/>
<line x1="341.60" y1="389.50" x2="346.80" y2="389.50" stroke="#101010" stroke-width="1.5" stroke-linecap="butt"/>
<line x1="341.60" y1="406.00" x2="346.80" y2="406.00" stroke="#101010" stroke-width="1.5" stroke-linecap="butt"/>
<circle cx="344.20" cy="398.00" r="2.3" fill="#101010"/>
<line x1="375.50" y1="373.00" x2="375.50" y2="397.00" stroke="#101010" stroke-width="1.5" stroke-linecap="butt"/>
<line x1="372.90" y1="373.00" x2="378.10" y2="373.00" stroke="#101010" stroke-width="1.5" stroke-linecap="butt"/>
<line x1="372.90" y1="397.00" x2="378.10" y2="397.00" stroke="#101010" stroke-width="1.5" stroke-linecap="butt"/>
<circle cx="375.50" cy="385.00" r="2.3" fill="#101010"/>
<text x="250.20" y="348.36" font-size="11.5" stroke="#101010" text-anchor="middle" fill="#101010" stroke-width="0.5">*</text>
<line x1="242.40" y1="335.60" x2="253.60" y2="335.60" stroke="#101010" stroke-width="1.3" stroke-linecap="butt"/>
<circle cx="248.00" cy="335.60" r="2.2" fill="#101010"/>
<text x="259.60" y="338.40" font-size="8.45" stroke="#101010" stroke-width="0.2" text-anchor="start" fill="#101010">ob/ob shLacZ</text>
<line x1="318.00" y1="335.60" x2="320.60" y2="335.60" stroke="#101010" stroke-width="1.3" stroke-linecap="butt"/>
<line x1="327.40" y1="335.60" x2="330.00" y2="335.60" stroke="#101010" stroke-width="1.3" stroke-linecap="butt"/>
<rect x="321.80" y="333.40" width="4.4" height="4.4" fill="#101010"/>
<text x="335.60" y="338.30" font-size="8.3" stroke="#101010" stroke-width="0.2" text-anchor="start" fill="#101010">ob/ob shB4GalT5</text>
<text x="397.60" y="10.40" font-size="12.4" font-weight="700" stroke="#101010" stroke-width="0.45" text-anchor="start" fill="#101010">E</text>
<text x="476.00" y="10.10" font-size="8.7" font-weight="700" stroke="#101010" stroke-width="0.45" text-anchor="middle" fill="#101010">HFD</text>
<line x1="431.00" y1="14.40" x2="522.40" y2="14.40" stroke="#101010" stroke-width="1.3" stroke-linecap="butt"/>
<text x="450.70" y="25.40" font-size="9.0" font-weight="700" stroke="#101010" stroke-width="0.45" text-anchor="middle" fill="#101010">shLacZ</text>
<line x1="425.00" y1="27.50" x2="473.60" y2="27.50" stroke="#101010" stroke-width="1.2" stroke-linecap="butt"/>
<text x="502.00" y="25.40" font-size="9.0" font-weight="700" stroke="#101010" stroke-width="0.45" text-anchor="middle" fill="#101010">shB4GalT5</text>
<line x1="477.00" y1="27.50" x2="528.40" y2="27.50" stroke="#101010" stroke-width="1.2" stroke-linecap="butt"/>
<text x="586.00" y="10.60" font-size="8.7" font-weight="700" stroke="#101010" stroke-width="0.45" text-anchor="middle" fill="#101010">ob/ob</text>
<line x1="547.00" y1="14.20" x2="631.20" y2="14.20" stroke="#101010" stroke-width="1.3" stroke-linecap="butt"/>
<text x="564.60" y="25.30" font-size="9.0" font-weight="700" stroke="#101010" stroke-width="0.45" text-anchor="middle" fill="#101010">shLacZ</text>
<line x1="541.80" y1="27.70" x2="585.40" y2="27.70" stroke="#101010" stroke-width="1.2" stroke-linecap="butt"/>
<text x="616.00" y="25.30" font-size="9.0" font-weight="700" stroke="#101010" stroke-width="0.45" text-anchor="middle" fill="#101010">shB4GalT5</text>
<line x1="592.20" y1="27.70" x2="642.50" y2="27.70" stroke="#101010" stroke-width="1.2" stroke-linecap="butt"/>
<text x="412.90" y="42.90" font-size="9.1" font-weight="700" stroke="#101010" stroke-width="0.45" text-anchor="end" fill="#101010">55</text>
<line x1="413.80" y1="39.90" x2="423.40" y2="39.90" stroke="#101010" stroke-width="1.7" stroke-linecap="butt"/>
<text x="412.90" y="71.60" font-size="9.1" font-weight="700" stroke="#101010" stroke-width="0.45" text-anchor="end" fill="#101010">55</text>
<line x1="413.80" y1="68.70" x2="423.40" y2="68.70" stroke="#101010" stroke-width="1.7" stroke-linecap="butt"/>
<text x="412.90" y="89.10" font-size="9.1" font-weight="700" stroke="#101010" stroke-width="0.45" text-anchor="end" fill="#101010">55</text>
<line x1="413.80" y1="86.30" x2="423.40" y2="86.30" stroke="#101010" stroke-width="1.7" stroke-linecap="butt"/>
<text x="412.90" y="99.80" font-size="9.1" font-weight="700" stroke="#101010" stroke-width="0.45" text-anchor="end" fill="#101010">100</text>
<line x1="413.80" y1="97.40" x2="423.40" y2="97.40" stroke="#101010" stroke-width="1.7" stroke-linecap="butt"/>
<text x="412.90" y="119.10" font-size="9.1" font-weight="700" stroke="#101010" stroke-width="0.45" text-anchor="end" fill="#101010">100</text>
<line x1="413.80" y1="116.40" x2="423.40" y2="116.40" stroke="#101010" stroke-width="1.7" stroke-linecap="butt"/>
<text x="412.90" y="134.30" font-size="9.1" font-weight="700" stroke="#101010" stroke-width="0.45" text-anchor="end" fill="#101010">100</text>
<line x1="413.80" y1="131.70" x2="423.40" y2="131.70" stroke="#101010" stroke-width="1.7" stroke-linecap="butt"/>
<text x="647.80" y="43.80" font-size="8.9" font-weight="700" stroke="#101010" stroke-width="0.45" text-anchor="start" fill="#101010">B4GalT5</text>
<text x="647.80" y="62.90" font-size="8.9" font-weight="700" stroke="#101010" stroke-width="0.45" text-anchor="start" fill="#101010">p-AKT</text>
<text x="647.80" y="80.90" font-size="8.9" font-weight="700" stroke="#101010" stroke-width="0.45" text-anchor="start" fill="#101010">t-AKT</text>
<text x="647.80" y="97.40" font-size="8.9" font-weight="700" stroke="#101010" stroke-width="0.45" text-anchor="start" fill="#101010">p-IRβ</text>
<text x="647.80" y="116.70" font-size="8.9" font-weight="700" stroke="#101010" stroke-width="0.45" text-anchor="start" fill="#101010">t-IRβ</text>
<text x="647.80" y="133.00" font-size="8.9" font-weight="700" stroke="#101010" stroke-width="0.45" text-anchor="start" fill="#101010">Hsp90</text>
<clipPath id="c1"><rect x="425.00" y="34.10" width="103.80" height="14.70"/></clipPath>
<rect x="425.00" y="34.10" width="103.80" height="14.70" fill="#dadada"/>
<g clip-path="url(#c1)">
<rect x="424.0" y="33.0" width="14.0" height="17.0" fill="#888" opacity="0.45" filter="url(#bl3)"/>
<rect x="424.0" y="46.5" width="106.0" height="3.5" fill="#888" opacity="0.45" filter="url(#bl3)"/>
<rect x="424.0" y="33.0" width="61.0" height="5.5" fill="#888" opacity="0.4" filter="url(#bl3)"/>
<rect x="480.0" y="36.0" width="50.0" height="10.0" fill="#fff" opacity="0.35" filter="url(#bl3)"/>
<rect x="426.20" y="38.85" width="16.60" height="4.10" rx="2.05" fill="#000" opacity="0.31" filter="url(#bl2)" transform="rotate(2 434.5 40.9)"/>
<rect x="427.00" y="40.05" width="15.00" height="1.70" rx="0.85" fill="#000" opacity="0.85" filter="url(#bl1)" transform="rotate(2 434.5 40.9)"/>
<rect x="442.70" y="39.40" width="18.10" height="4.20" rx="2.10" fill="#000" opacity="0.31" filter="url(#bl2)" transform="rotate(1 451.8 41.5)"/>
<rect x="443.50" y="40.60" width="16.50" height="1.80" rx="0.90" fill="#000" opacity="0.85" filter="url(#bl1)" transform="rotate(1 451.8 41.5)"/>
<rect x="460.20" y="40.15" width="16.60" height="3.90" rx="1.95" fill="#000" opacity="0.22" filter="url(#bl2)" transform="rotate(1 468.5 42.1)"/>
<rect x="461.00" y="41.35" width="15.00" height="1.50" rx="0.75" fill="#000" opacity="0.6" filter="url(#bl1)" transform="rotate(1 468.5 42.1)"/>
<rect x="473.20" y="40.50" width="24.60" height="3.60" rx="1.80" fill="#000" opacity="0.07" filter="url(#bl2)"/>
<rect x="474.00" y="41.70" width="23.00" height="1.20" rx="0.60" fill="#000" opacity="0.2" filter="url(#bl1)"/>
<rect x="496.20" y="39.75" width="9.60" height="3.90" rx="1.95" fill="#000" opacity="0.08" filter="url(#bl2)"/>
<rect x="497.00" y="40.95" width="8.00" height="1.50" rx="0.75" fill="#000" opacity="0.22" filter="url(#bl1)"/>
<rect x="512.20" y="39.75" width="14.10" height="4.10" rx="2.05" fill="#000" opacity="0.14" filter="url(#bl2)" transform="rotate(-4 519.2 41.8)"/>
<rect x="513.00" y="40.95" width="12.50" height="1.70" rx="0.85" fill="#000" opacity="0.38" filter="url(#bl1)" transform="rotate(-4 519.2 41.8)"/>
</g>
<rect x="425.15" y="34.25" width="103.50" height="14.40" fill="none" stroke="#111" stroke-width="1.5"/>
<clipPath id="c2"><rect x="425.00" y="53.00" width="103.80" height="14.40"/></clipPath>
<rect x="425.00" y="53.00" width="103.80" height="14.40" fill="#e2e2e2"/>
<g clip-path="url(#c2)">
<rect x="424.0" y="64.5" width="106.0" height="3.5" fill="#999" opacity="0.4" filter="url(#bl3)"/>
<rect x="521.0" y="52.0" width="9.0" height="16.0" fill="#999" opacity="0.35" filter="url(#bl3)"/>
<rect x="424.0" y="52.0" width="106.0" height="3.0" fill="#bbb" opacity="0.3" filter="url(#bl3)"/>
<rect x="427.20" y="59.20" width="14.60" height="4.00" rx="2.00" fill="#000" opacity="0.04" filter="url(#bl2)"/>
<rect x="428.00" y="60.40" width="13.00" height="1.60" rx="0.80" fill="#000" opacity="0.1" filter="url(#bl4)"/>
<rect x="445.20" y="58.50" width="14.60" height="5.00" rx="2.50" fill="#000" opacity="0.15" filter="url(#bl2)"/>
<rect x="446.00" y="59.70" width="13.00" height="2.60" rx="1.30" fill="#000" opacity="0.42" filter="url(#bl4)"/>
<rect x="460.20" y="59.20" width="15.60" height="4.00" rx="2.00" fill="#000" opacity="0.05" filter="url(#bl2)"/>
<rect x="461.00" y="60.40" width="14.00" height="1.60" rx="0.80" fill="#000" opacity="0.15" filter="url(#bl4)"/>
<rect x="476.20" y="58.40" width="15.60" height="4.80" rx="2.40" fill="#000" opacity="0.31" filter="url(#bl2)"/>
<rect x="477.00" y="59.60" width="14.00" height="2.40" rx="1.20" fill="#000" opacity="0.85" filter="url(#bl4)"/>
<rect x="492.20" y="57.90" width="16.10" height="4.40" rx="2.20" fill="#000" opacity="0.22" filter="url(#bl2)" transform="rotate(-3 500.2 60.1)"/>
<rect x="493.00" y="59.10" width="14.50" height="2.00" rx="1.00" fill="#000" opacity="0.6" filter="url(#bl4)" transform="rotate(-3 500.2 60.1)"/>
<rect x="509.20" y="56.80" width="16.60" height="4.40" rx="2.20" fill="#000" opacity="0.22" filter="url(#bl2)" transform="rotate(-8 517.5 59.0)"/>
<rect x="510.00" y="58.00" width="15.00" height="2.00" rx="1.00" fill="#000" opacity="0.6" filter="url(#bl4)" transform="rotate(-8 517.5 59.0)"/>
</g>
<rect x="425.15" y="53.15" width="103.50" height="14.10" fill="none" stroke="#111" stroke-width="1.5"/>
<clipPath id="c3"><rect x="425.00" y="71.60" width="103.80" height="14.40"/></clipPath>
<rect x="425.00" y="71.60" width="103.80" height="14.40" fill="#e2e2e2"/>
<g clip-path="url(#c3)">
<rect x="424.0" y="71.0" width="106.0" height="3.5" fill="#999" opacity="0.35" filter="url(#bl3)"/>
<rect x="425.70" y="77.80" width="19.10" height="5.40" rx="2.70" fill="#000" opacity="0.36" filter="url(#bl2)"/>
<rect x="426.50" y="79.00" width="17.50" height="3.00" rx="1.50" fill="#000" opacity="1.0" filter="url(#bl1)"/>
<rect x="445.70" y="77.70" width="15.10" height="5.20" rx="2.60" fill="#000" opacity="0.36" filter="url(#bl2)"/>
<rect x="446.50" y="78.90" width="13.50" height="2.80" rx="1.40" fill="#000" opacity="1.0" filter="url(#bl1)"/>
<rect x="458.70" y="77.90" width="19.60" height="5.40" rx="2.70" fill="#000" opacity="0.36" filter="url(#bl2)"/>
<rect x="459.50" y="79.10" width="18.00" height="3.00" rx="1.50" fill="#000" opacity="1.0" filter="url(#bl1)"/>
<rect x="477.20" y="78.20" width="16.10" height="5.40" rx="2.70" fill="#000" opacity="0.36" filter="url(#bl2)"/>
<rect x="478.00" y="79.40" width="14.50" height="3.00" rx="1.50" fill="#000" opacity="1.0" filter="url(#bl1)"/>
<rect x="493.70" y="77.70" width="15.60" height="5.20" rx="2.60" fill="#000" opacity="0.36" filter="url(#bl2)"/>
<rect x="494.50" y="78.90" width="14.00" height="2.80" rx="1.40" fill="#000" opacity="1.0" filter="url(#bl1)"/>
<rect x="509.70" y="77.10" width="17.10" height="5.60" rx="2.80" fill="#000" opacity="0.36" filter="url(#bl2)"/>
<rect x="510.50" y="78.30" width="15.50" height="3.20" rx="1.60" fill="#000" opacity="1.0" filter="url(#bl1)"/>
</g>
<rect x="425.15" y="71.75" width="103.50" height="14.10" fill="none" stroke="#111" stroke-width="1.5"/>
<clipPath id="c4"><rect x="425.00" y="89.40" width="103.80" height="13.40"/></clipPath>
<rect x="425.00" y="89.40" width="103.80" height="13.40" fill="#aeaeae"/>
<g clip-path="url(#c4)">
<rect x="424.0" y="88.0" width="106.0" height="3.0" fill="#ddd" opacity="0.3" filter="url(#bl3)"/>
<rect x="424.0" y="99.0" width="106.0" height="5.0" fill="#888" opacity="0.3" filter="url(#bl3)"/>
<rect x="426.20" y="92.90" width="13.60" height="5.00" rx="2.50" fill="#000" opacity="0.07" filter="url(#bl2)"/>
<rect x="427.00" y="94.10" width="12.00" height="2.60" rx="1.30" fill="#000" opacity="0.2" filter="url(#bl4)"/>
<rect x="442.20" y="92.80" width="14.60" height="4.80" rx="2.40" fill="#000" opacity="0.08" filter="url(#bl2)"/>
<rect x="443.00" y="94.00" width="13.00" height="2.40" rx="1.20" fill="#000" opacity="0.22" filter="url(#bl4)"/>
<rect x="460.20" y="93.40" width="18.10" height="5.20" rx="2.60" fill="#000" opacity="0.18" filter="url(#bl2)"/>
<rect x="461.00" y="94.60" width="16.50" height="2.80" rx="1.40" fill="#000" opacity="0.5" filter="url(#bl4)"/>
<rect x="476.70" y="93.40" width="16.60" height="5.60" rx="2.80" fill="#000" opacity="0.31" filter="url(#bl2)"/>
<rect x="477.50" y="94.60" width="15.00" height="3.20" rx="1.60" fill="#000" opacity="0.85" filter="url(#bl4)"/>
<rect x="494.20" y="94.00" width="13.60" height="4.40" rx="2.20" fill="#000" opacity="0.04" filter="url(#bl2)"/>
<rect x="495.00" y="95.20" width="12.00" height="2.00" rx="1.00" fill="#000" opacity="0.1" filter="url(#bl4)"/>
<rect x="509.70" y="92.40" width="16.60" height="5.20" rx="2.60" fill="#000" opacity="0.22" filter="url(#bl2)"/>
<rect x="510.50" y="93.60" width="15.00" height="2.80" rx="1.40" fill="#000" opacity="0.6" filter="url(#bl4)"/>
</g>
<rect x="425.15" y="89.55" width="103.50" height="13.10" fill="none" stroke="#111" stroke-width="1.5"/>
<clipPath id="c5"><rect x="425.00" y="107.60" width="103.80" height="14.40"/></clipPath>
<rect x="425.00" y="107.60" width="103.80" height="14.40" fill="#c2c2c2"/>
<g clip-path="url(#c5)">
<rect x="424.0" y="107.0" width="106.0" height="3.0" fill="#999" opacity="0.35" filter="url(#bl3)"/>
<rect x="424.0" y="119.0" width="106.0" height="4.0" fill="#999" opacity="0.3" filter="url(#bl3)"/>
<rect x="426.20" y="111.40" width="18.10" height="5.20" rx="2.60" fill="#000" opacity="0.32" filter="url(#bl2)"/>
<rect x="427.00" y="112.60" width="16.50" height="2.80" rx="1.40" fill="#000" opacity="0.88" filter="url(#bl4)"/>
<rect x="442.20" y="111.30" width="18.60" height="5.80" rx="2.90" fill="#000" opacity="0.34" filter="url(#bl2)"/>
<rect x="443.00" y="112.50" width="17.00" height="3.40" rx="1.70" fill="#000" opacity="0.95" filter="url(#bl4)"/>
<rect x="460.20" y="111.30" width="17.10" height="5.20" rx="2.60" fill="#000" opacity="0.32" filter="url(#bl2)"/>
<rect x="461.00" y="112.50" width="15.50" height="2.80" rx="1.40" fill="#000" opacity="0.88" filter="url(#bl4)"/>
<rect x="476.70" y="112.30" width="17.60" height="5.20" rx="2.60" fill="#000" opacity="0.32" filter="url(#bl2)"/>
<rect x="477.50" y="113.50" width="16.00" height="2.80" rx="1.40" fill="#000" opacity="0.88" filter="url(#bl4)"/>
<rect x="495.20" y="111.90" width="13.10" height="4.60" rx="2.30" fill="#000" opacity="0.13" filter="url(#bl2)"/>
<rect x="496.00" y="113.10" width="11.50" height="2.20" rx="1.10" fill="#000" opacity="0.35" filter="url(#bl4)"/>
<rect x="510.20" y="110.80" width="16.60" height="5.00" rx="2.50" fill="#000" opacity="0.25" filter="url(#bl2)"/>
<rect x="511.00" y="112.00" width="15.00" height="2.60" rx="1.30" fill="#000" opacity="0.7" filter="url(#bl4)"/>
</g>
<rect x="425.15" y="107.75" width="103.50" height="14.10" fill="none" stroke="#111" stroke-width="1.5"/>
<clipPath id="c6"><rect x="425.00" y="126.00" width="103.80" height="12.10"/></clipPath>
<rect x="425.00" y="126.00" width="103.80" height="12.10" fill="#b6b6b6"/>
<g clip-path="url(#c6)">
<rect x="424.0" y="135.5" width="106.0" height="3.5" fill="#ddd" opacity="0.3" filter="url(#bl3)"/>
<rect x="425.70" y="129.50" width="16.60" height="5.00" rx="2.50" fill="#000" opacity="0.36" filter="url(#bl2)"/>
<rect x="426.50" y="130.70" width="15.00" height="2.60" rx="1.30" fill="#000" opacity="1.0" filter="url(#bl1)"/>
<rect x="441.70" y="129.70" width="18.60" height="6.00" rx="3.00" fill="#000" opacity="0.36" filter="url(#bl2)"/>
<rect x="442.50" y="130.90" width="17.00" height="3.60" rx="1.80" fill="#000" opacity="1.0" filter="url(#bl1)"/>
<rect x="460.20" y="129.50" width="16.10" height="4.80" rx="2.40" fill="#000" opacity="0.36" filter="url(#bl2)"/>
<rect x="461.00" y="130.70" width="14.50" height="2.40" rx="1.20" fill="#000" opacity="1.0" filter="url(#bl1)"/>
<rect x="477.20" y="129.70" width="17.10" height="5.40" rx="2.70" fill="#000" opacity="0.36" filter="url(#bl2)"/>
<rect x="478.00" y="130.90" width="15.50" height="3.00" rx="1.50" fill="#000" opacity="1.0" filter="url(#bl1)"/>
<rect x="494.20" y="129.30" width="16.60" height="5.60" rx="2.80" fill="#000" opacity="0.36" filter="url(#bl2)"/>
<rect x="495.00" y="130.50" width="15.00" height="3.20" rx="1.60" fill="#000" opacity="1.0" filter="url(#bl1)"/>
<rect x="511.20" y="129.60" width="17.10" height="5.00" rx="2.50" fill="#000" opacity="0.36" filter="url(#bl2)"/>
<rect x="512.00" y="130.80" width="15.50" height="2.60" rx="1.30" fill="#000" opacity="1.0" filter="url(#bl1)"/>
</g>
<rect x="425.15" y="126.15" width="103.50" height="11.80" fill="none" stroke="#111" stroke-width="1.5"/>
<clipPath id="c7"><rect x="538.00" y="33.90" width="105.00" height="14.50"/></clipPath>
<rect x="538.00" y="33.90" width="105.00" height="14.50" fill="#c0c0c0"/>
<g clip-path="url(#c7)">
<rect x="537.0" y="33.0" width="63.0" height="5.0" fill="#666" opacity="0.5" filter="url(#bl3)"/>
<rect x="537.0" y="33.0" width="9.0" height="16.0" fill="#555" opacity="0.45" filter="url(#bl3)"/>
<rect x="590.0" y="42.0" width="54.0" height="7.0" fill="#fff" opacity="0.55" filter="url(#bl3)"/>
<rect x="545.0" y="43.0" width="55.0" height="5.0" fill="#eee" opacity="0.35" filter="url(#bl3)"/>
<rect x="540.20" y="37.60" width="16.60" height="4.60" rx="2.30" fill="#000" opacity="0.28" filter="url(#bl2)"/>
<rect x="541.00" y="38.80" width="15.00" height="2.20" rx="1.10" fill="#000" opacity="0.78" filter="url(#bl1)"/>
<rect x="557.20" y="37.15" width="16.10" height="5.10" rx="2.55" fill="#000" opacity="0.31" filter="url(#bl2)"/>
<rect x="558.00" y="38.35" width="14.50" height="2.70" rx="1.35" fill="#000" opacity="0.85" filter="url(#bl1)"/>
<rect x="573.20" y="37.10" width="14.60" height="4.60" rx="2.30" fill="#000" opacity="0.28" filter="url(#bl2)"/>
<rect x="574.00" y="38.30" width="13.00" height="2.20" rx="1.10" fill="#000" opacity="0.78" filter="url(#bl1)"/>
<rect x="590.70" y="37.70" width="14.60" height="4.60" rx="2.30" fill="#000" opacity="0.25" filter="url(#bl2)"/>
<rect x="591.50" y="38.90" width="13.00" height="2.20" rx="1.10" fill="#000" opacity="0.7" filter="url(#bl1)"/>
<rect x="606.70" y="38.20" width="14.60" height="4.40" rx="2.20" fill="#000" opacity="0.17" filter="url(#bl2)"/>
<rect x="607.50" y="39.40" width="13.00" height="2.00" rx="1.00" fill="#000" opacity="0.48" filter="url(#bl1)"/>
<rect x="623.70" y="38.55" width="12.60" height="4.10" rx="2.05" fill="#000" opacity="0.09" filter="url(#bl2)"/>
<rect x="624.50" y="39.75" width="11.00" height="1.70" rx="0.85" fill="#000" opacity="0.25" filter="url(#bl1)"/>
</g>
<rect x="538.15" y="34.05" width="104.70" height="14.20" fill="none" stroke="#111" stroke-width="1.5"/>
<clipPath id="c8"><rect x="538.00" y="53.00" width="105.00" height="14.40"/></clipPath>
<rect x="538.00" y="53.00" width="105.00" height="14.40" fill="#e9e9e9"/>
<g clip-path="url(#c8)">
<rect x="537.0" y="65.0" width="107.0" height="3.0" fill="#aaa" opacity="0.35" filter="url(#bl3)"/>
<rect x="539.20" y="59.60" width="12.60" height="4.00" rx="2.00" fill="#000" opacity="0.04" filter="url(#bl2)"/>
<rect x="540.00" y="60.80" width="11.00" height="1.60" rx="0.80" fill="#000" opacity="0.1" filter="url(#bl1)"/>
<rect x="556.70" y="58.80" width="13.60" height="4.40" rx="2.20" fill="#000" opacity="0.29" filter="url(#bl2)"/>
<rect x="557.50" y="60.00" width="12.00" height="2.00" rx="1.00" fill="#000" opacity="0.8" filter="url(#bl1)"/>
<rect x="572.20" y="58.60" width="13.10" height="4.00" rx="2.00" fill="#000" opacity="0.18" filter="url(#bl2)" transform="rotate(-5 578.8 60.6)"/>
<rect x="573.00" y="59.80" width="11.50" height="1.60" rx="0.80" fill="#000" opacity="0.5" filter="url(#bl1)" transform="rotate(-5 578.8 60.6)"/>
<rect x="588.70" y="57.30" width="16.60" height="5.40" rx="2.70" fill="#000" opacity="0.35" filter="url(#bl2)"/>
<rect x="589.50" y="58.50" width="15.00" height="3.00" rx="1.50" fill="#000" opacity="0.97" filter="url(#bl1)"/>
<rect x="606.70" y="58.10" width="15.60" height="5.00" rx="2.50" fill="#000" opacity="0.33" filter="url(#bl2)"/>
<rect x="607.50" y="59.30" width="14.00" height="2.60" rx="1.30" fill="#000" opacity="0.92" filter="url(#bl1)"/>
<rect x="622.70" y="57.80" width="18.10" height="6.00" rx="3.00" fill="#000" opacity="0.36" filter="url(#bl2)"/>
<rect x="623.50" y="59.00" width="16.50" height="3.60" rx="1.80" fill="#000" opacity="1.0" filter="url(#bl1)"/>
</g>
<rect x="538.15" y="53.15" width="104.70" height="14.10" fill="none" stroke="#111" stroke-width="1.5"/>
<clipPath id="c9"><rect x="538.00" y="71.60" width="105.00" height="13.60"/></clipPath>
<rect x="538.00" y="71.60" width="105.00" height="13.60" fill="#e4e4e4"/>
<g clip-path="url(#c9)">
<rect x="537.0" y="82.5" width="107.0" height="3.5" fill="#aaa" opacity="0.3" filter="url(#bl3)"/>
<rect x="539.20" y="76.40" width="18.60" height="4.80" rx="2.40" fill="#000" opacity="0.36" filter="url(#bl2)"/>
<rect x="540.00" y="77.60" width="17.00" height="2.40" rx="1.20" fill="#000" opacity="1.0" filter="url(#bl1)"/>
<rect x="556.70" y="76.40" width="17.10" height="4.80" rx="2.40" fill="#000" opacity="0.36" filter="url(#bl2)"/>
<rect x="557.50" y="77.60" width="15.50" height="2.40" rx="1.20" fill="#000" opacity="1.0" filter="url(#bl1)"/>
<rect x="573.20" y="76.30" width="17.10" height="4.60" rx="2.30" fill="#000" opacity="0.36" filter="url(#bl2)"/>
<rect x="574.00" y="77.50" width="15.50" height="2.20" rx="1.10" fill="#000" opacity="1.0" filter="url(#bl1)"/>
<rect x="589.70" y="76.40" width="18.10" height="4.80" rx="2.40" fill="#000" opacity="0.36" filter="url(#bl2)"/>
<rect x="590.50" y="77.60" width="16.50" height="2.40" rx="1.20" fill="#000" opacity="1.0" filter="url(#bl1)"/>
<rect x="605.70" y="76.40" width="18.10" height="4.80" rx="2.40" fill="#000" opacity="0.36" filter="url(#bl2)"/>
<rect x="606.50" y="77.60" width="16.50" height="2.40" rx="1.20" fill="#000" opacity="1.0" filter="url(#bl1)"/>
<rect x="623.20" y="76.20" width="17.60" height="4.80" rx="2.40" fill="#000" opacity="0.36" filter="url(#bl2)"/>
<rect x="624.00" y="77.40" width="16.00" height="2.40" rx="1.20" fill="#000" opacity="1.0" filter="url(#bl1)"/>
</g>
<rect x="538.15" y="71.75" width="104.70" height="13.30" fill="none" stroke="#111" stroke-width="1.5"/>
<clipPath id="c10"><rect x="538.00" y="89.40" width="105.00" height="13.20"/></clipPath>
<rect x="538.00" y="89.40" width="105.00" height="13.20" fill="#dadada"/>
<g clip-path="url(#c10)">
<rect x="537.0" y="99.0" width="107.0" height="4.0" fill="#999" opacity="0.3" filter="url(#bl3)"/>
<rect x="555.70" y="90.90" width="13.60" height="5.00" rx="2.50" fill="#000" opacity="0.16" filter="url(#bl2)"/>
<rect x="556.50" y="92.10" width="12.00" height="2.60" rx="1.30" fill="#000" opacity="0.45" filter="url(#bl1)"/>
<rect x="572.20" y="91.20" width="13.60" height="4.80" rx="2.40" fill="#000" opacity="0.12" filter="url(#bl2)"/>
<rect x="573.00" y="92.40" width="12.00" height="2.40" rx="1.20" fill="#000" opacity="0.32" filter="url(#bl1)"/>
<rect x="588.20" y="90.70" width="18.10" height="7.00" rx="3.50" fill="#000" opacity="0.36" filter="url(#bl2)"/>
<rect x="589.00" y="91.90" width="16.50" height="4.60" rx="2.30" fill="#000" opacity="1.0" filter="url(#bl1)"/>
<rect x="606.70" y="90.80" width="14.60" height="6.00" rx="3.00" fill="#000" opacity="0.36" filter="url(#bl2)"/>
<rect x="607.50" y="92.00" width="13.00" height="3.60" rx="1.80" fill="#000" opacity="1.0" filter="url(#bl1)"/>
<rect x="623.70" y="90.50" width="15.10" height="5.40" rx="2.70" fill="#000" opacity="0.33" filter="url(#bl2)"/>
<rect x="624.50" y="91.70" width="13.50" height="3.00" rx="1.50" fill="#000" opacity="0.92" filter="url(#bl1)"/>
</g>
<rect x="538.15" y="89.55" width="104.70" height="12.90" fill="none" stroke="#111" stroke-width="1.5"/>
<clipPath id="c11"><rect x="538.00" y="107.40" width="105.00" height="14.40"/></clipPath>
<rect x="538.00" y="107.40" width="105.00" height="14.40" fill="#cacaca"/>
<g clip-path="url(#c11)">
<rect x="541.20" y="108.70" width="17.10" height="9.80" rx="4.90" fill="#000" opacity="0.36" filter="url(#bl2)"/>
<rect x="542.00" y="109.90" width="15.50" height="7.40" rx="2.40" fill="#000" opacity="1.0" filter="url(#bl4)"/>
<rect x="559.20" y="111.40" width="14.10" height="6.00" rx="3.00" fill="#000" opacity="0.18" filter="url(#bl2)"/>
<rect x="560.00" y="112.60" width="12.50" height="3.60" rx="1.80" fill="#000" opacity="0.5" filter="url(#bl4)"/>
<rect x="576.20" y="110.70" width="14.60" height="6.60" rx="3.30" fill="#000" opacity="0.31" filter="url(#bl2)"/>
<rect x="577.00" y="111.90" width="13.00" height="4.20" rx="2.10" fill="#000" opacity="0.85" filter="url(#bl4)"/>
<rect x="590.70" y="110.10" width="17.10" height="7.00" rx="3.50" fill="#000" opacity="0.26" filter="url(#bl2)"/>
<rect x="591.50" y="111.30" width="15.50" height="4.60" rx="2.30" fill="#000" opacity="0.72" filter="url(#bl4)"/>
<rect x="609.20" y="110.70" width="13.60" height="6.20" rx="3.10" fill="#000" opacity="0.19" filter="url(#bl2)"/>
<rect x="610.00" y="111.90" width="12.00" height="3.80" rx="1.90" fill="#000" opacity="0.52" filter="url(#bl4)"/>
<rect x="626.20" y="110.50" width="13.60" height="6.20" rx="3.10" fill="#000" opacity="0.19" filter="url(#bl2)"/>
<rect x="627.00" y="111.70" width="12.00" height="3.80" rx="1.90" fill="#000" opacity="0.52" filter="url(#bl4)"/>
</g>
<rect x="538.15" y="107.55" width="104.70" height="14.10" fill="none" stroke="#111" stroke-width="1.5"/>
<clipPath id="c12"><rect x="538.00" y="126.00" width="105.00" height="12.20"/></clipPath>
<rect x="538.00" y="126.00" width="105.00" height="12.20" fill="#bebebe"/>
<g clip-path="url(#c12)">
<rect x="537.0" y="125.0" width="107.0" height="5.0" fill="#999" opacity="0.4" filter="url(#bl3)"/>
<rect x="538.20" y="130.20" width="18.60" height="4.40" rx="2.20" fill="#000" opacity="0.36" filter="url(#bl2)"/>
<rect x="539.00" y="131.40" width="17.00" height="2.00" rx="1.00" fill="#000" opacity="1.0" filter="url(#bl1)"/>
<rect x="554.20" y="130.50" width="19.60" height="4.60" rx="2.30" fill="#000" opacity="0.36" filter="url(#bl2)"/>
<rect x="555.00" y="131.70" width="18.00" height="2.20" rx="1.10" fill="#000" opacity="1.0" filter="url(#bl1)"/>
<rect x="571.20" y="130.50" width="18.60" height="4.20" rx="2.10" fill="#000" opacity="0.36" filter="url(#bl2)"/>
<rect x="572.00" y="131.70" width="17.00" height="1.80" rx="0.90" fill="#000" opacity="1.0" filter="url(#bl1)"/>
<rect x="589.20" y="130.10" width="17.60" height="4.60" rx="2.30" fill="#000" opacity="0.36" filter="url(#bl2)"/>
<rect x="590.00" y="131.30" width="16.00" height="2.20" rx="1.10" fill="#000" opacity="1.0" filter="url(#bl1)"/>
<rect x="604.20" y="129.60" width="19.60" height="4.80" rx="2.40" fill="#000" opacity="0.36" filter="url(#bl2)"/>
<rect x="605.00" y="130.80" width="18.00" height="2.40" rx="1.20" fill="#000" opacity="1.0" filter="url(#bl1)"/>
<rect x="621.20" y="129.20" width="21.60" height="4.80" rx="2.40" fill="#000" opacity="0.36" filter="url(#bl2)"/>
<rect x="622.00" y="130.40" width="20.00" height="2.40" rx="1.20" fill="#000" opacity="1.0" filter="url(#bl1)"/>
</g>
<rect x="538.15" y="126.15" width="104.70" height="11.90" fill="none" stroke="#111" stroke-width="1.5"/>
<text x="452.20" y="164.30" font-size="12.4" font-weight="700" stroke="#101010" stroke-width="0.45" text-anchor="start" fill="#101010">F</text>
<line x1="479.00" y1="183.48" x2="479.00" y2="288.23" stroke="#101010" stroke-width="1.25" stroke-linecap="butt"/>
<line x1="476.40" y1="287.60" x2="479.00" y2="287.60" stroke="#101010" stroke-width="1.25" stroke-linecap="butt"/>
<text x="474.90" y="290.03" font-size="8.1" font-weight="700" stroke="#101010" stroke-width="0.45" text-anchor="end" fill="#101010">0.0</text>
<line x1="476.40" y1="253.10" x2="479.00" y2="253.10" stroke="#101010" stroke-width="1.25" stroke-linecap="butt"/>
<text x="474.90" y="255.53" font-size="8.1" font-weight="700" stroke="#101010" stroke-width="0.45" text-anchor="end" fill="#101010">0.5</text>
<line x1="476.40" y1="218.60" x2="479.00" y2="218.60" stroke="#101010" stroke-width="1.25" stroke-linecap="butt"/>
<text x="474.90" y="221.03" font-size="8.1" font-weight="700" stroke="#101010" stroke-width="0.45" text-anchor="end" fill="#101010">1.0</text>
<line x1="476.40" y1="184.10" x2="479.00" y2="184.10" stroke="#101010" stroke-width="1.25" stroke-linecap="butt"/>
<text x="474.90" y="186.53" font-size="8.1" font-weight="700" stroke="#101010" stroke-width="0.45" text-anchor="end" fill="#101010">1.5</text>
<line x1="478.38" y1="287.75" x2="636.00" y2="287.75" stroke="#101010" stroke-width="1.25" stroke-linecap="butt"/>
<line x1="506.00" y1="287.60" x2="506.00" y2="290.75" stroke="#101010" stroke-width="1.25" stroke-linecap="butt"/>
<line x1="558.00" y1="287.60" x2="558.00" y2="290.75" stroke="#101010" stroke-width="1.25" stroke-linecap="butt"/>
<line x1="610.00" y1="287.60" x2="610.00" y2="290.75" stroke="#101010" stroke-width="1.25" stroke-linecap="butt"/>
<text x="458.70" y="236.00" font-size="8.2" font-weight="700" stroke="#101010" stroke-width="0.45" text-anchor="middle" transform="rotate(-90 458.70 236.00)" fill="#101010">Relative mRNA expression</text>
<text x="506.20" y="298.60" font-size="8.2" font-weight="700" stroke="#101010" stroke-width="0.45" text-anchor="middle" fill="#101010">IFN-γ</text>
<text x="558.00" y="298.60" font-size="8.2" font-weight="700" stroke="#101010" stroke-width="0.45" text-anchor="middle" fill="#101010">IL-6</text>
<text x="609.80" y="298.60" font-size="8.2" font-weight="700" stroke="#101010" stroke-width="0.45" text-anchor="middle" fill="#101010">TNF-α</text>
<line x1="496.30" y1="188.60" x2="496.30" y2="218.60" stroke="#101010" stroke-width="1.2" stroke-linecap="butt"/>
<line x1="492.50" y1="188.60" x2="500.10" y2="188.60" stroke="#101010" stroke-width="1.3" stroke-linecap="butt"/>
<rect x="490.20" y="218.60" width="12.20" height="69.00" fill="#fff" stroke="#101010" stroke-width="1.2"/>
<line x1="515.80" y1="249.40" x2="515.80" y2="268.40" stroke="#101010" stroke-width="1.2" stroke-linecap="butt"/>
<line x1="512.00" y1="249.40" x2="519.60" y2="249.40" stroke="#101010" stroke-width="1.3" stroke-linecap="butt"/>
<rect x="509.60" y="268.40" width="12.40" height="19.20" fill="#999999" stroke="#101010" stroke-width="1.2"/>
<line x1="548.10" y1="195.60" x2="548.10" y2="218.60" stroke="#101010" stroke-width="1.2" stroke-linecap="butt"/>
<line x1="544.30" y1="195.60" x2="551.90" y2="195.60" stroke="#101010" stroke-width="1.3" stroke-linecap="butt"/>
<rect x="542.00" y="218.60" width="12.20" height="69.00" fill="#fff" stroke="#101010" stroke-width="1.2"/>
<line x1="567.70" y1="251.40" x2="567.70" y2="267.60" stroke="#101010" stroke-width="1.2" stroke-linecap="butt"/>
<line x1="563.90" y1="251.40" x2="571.50" y2="251.40" stroke="#101010" stroke-width="1.3" stroke-linecap="butt"/>
<rect x="561.60" y="267.60" width="12.20" height="20.00" fill="#999999" stroke="#101010" stroke-width="1.2"/>
<line x1="599.90" y1="189.00" x2="599.90" y2="218.60" stroke="#101010" stroke-width="1.2" stroke-linecap="butt"/>
<line x1="596.10" y1="189.00" x2="603.70" y2="189.00" stroke="#101010" stroke-width="1.3" stroke-linecap="butt"/>
<rect x="593.80" y="218.60" width="12.20" height="69.00" fill="#fff" stroke="#101010" stroke-width="1.2"/>
<line x1="619.20" y1="268.00" x2="619.20" y2="276.40" stroke="#101010" stroke-width="1.2" stroke-linecap="butt"/>
<line x1="615.40" y1="268.00" x2="623.00" y2="268.00" stroke="#101010" stroke-width="1.3" stroke-linecap="butt"/>
<rect x="613.00" y="276.40" width="12.40" height="11.20" fill="#999999" stroke="#101010" stroke-width="1.2"/>
<line x1="492.40" y1="184.60" x2="507.40" y2="184.60" stroke="#101010" stroke-width="1.2" stroke-linecap="butt"/>
<line x1="492.40" y1="181.60" x2="492.40" y2="187.60" stroke="#101010" stroke-width="1.2" stroke-linecap="butt"/>
<line x1="507.40" y1="181.60" x2="507.40" y2="187.60" stroke="#101010" stroke-width="1.2" stroke-linecap="butt"/>
<text x="499.60" y="184.36" font-size="11.5" stroke="#101010" text-anchor="middle" fill="#101010" stroke-width="0.5" letter-spacing="0.9">**</text>
<line x1="548.40" y1="185.60" x2="563.40" y2="185.60" stroke="#101010" stroke-width="1.2" stroke-linecap="butt"/>
<line x1="548.40" y1="182.60" x2="548.40" y2="188.60" stroke="#101010" stroke-width="1.2" stroke-linecap="butt"/>
<line x1="563.40" y1="182.60" x2="563.40" y2="188.60" stroke="#101010" stroke-width="1.2" stroke-linecap="butt"/>
<text x="556.00" y="185.36" font-size="11.5" stroke="#101010" text-anchor="middle" fill="#101010" stroke-width="0.5" letter-spacing="0.9">**</text>
<line x1="599.60" y1="183.60" x2="614.40" y2="183.60" stroke="#101010" stroke-width="1.2" stroke-linecap="butt"/>
<line x1="599.60" y1="180.60" x2="599.60" y2="186.60" stroke="#101010" stroke-width="1.2" stroke-linecap="butt"/>
<line x1="614.40" y1="180.60" x2="614.40" y2="186.60" stroke="#101010" stroke-width="1.2" stroke-linecap="butt"/>
<text x="607.00" y="183.96" font-size="11.5" stroke="#101010" text-anchor="middle" fill="#101010" stroke-width="0.5" letter-spacing="0.9">**</text>
<rect x="479.95" y="163.95" width="11.90" height="5.10" fill="#fff" stroke="#101010" stroke-width="1.1"/>
<text x="498.00" y="169.20" font-size="8.2" stroke="#101010" stroke-width="0.2" text-anchor="start" fill="#101010">HFD shLacZ</text>
<rect x="554.15" y="163.95" width="11.50" height="5.10" fill="#999999" stroke="#101010" stroke-width="1.1"/>
<text x="571.60" y="169.20" font-size="8.2" stroke="#101010" stroke-width="0.2" text-anchor="start" fill="#101010">HFD shB4GalT5</text>
<text x="451.80" y="324.30" font-size="12.2" font-weight="700" stroke="#101010" stroke-width="0.45" text-anchor="start" fill="#101010">G</text>
<line x1="479.00" y1="330.48" x2="479.00" y2="435.23" stroke="#101010" stroke-width="1.25" stroke-linecap="butt"/>
<line x1="476.40" y1="434.60" x2="479.00" y2="434.60" stroke="#101010" stroke-width="1.25" stroke-linecap="butt"/>
<text x="474.90" y="437.03" font-size="8.1" font-weight="700" stroke="#101010" stroke-width="0.45" text-anchor="end" fill="#101010">0.0</text>
<line x1="476.40" y1="400.10" x2="479.00" y2="400.10" stroke="#101010" stroke-width="1.25" stroke-linecap="butt"/>
<text x="474.90" y="402.53" font-size="8.1" font-weight="700" stroke="#101010" stroke-width="0.45" text-anchor="end" fill="#101010">0.5</text>
<line x1="476.40" y1="365.60" x2="479.00" y2="365.60" stroke="#101010" stroke-width="1.25" stroke-linecap="butt"/>
<text x="474.90" y="368.03" font-size="8.1" font-weight="700" stroke="#101010" stroke-width="0.45" text-anchor="end" fill="#101010">1.0</text>
<line x1="476.40" y1="331.10" x2="479.00" y2="331.10" stroke="#101010" stroke-width="1.25" stroke-linecap="butt"/>
<text x="474.90" y="333.53" font-size="8.1" font-weight="700" stroke="#101010" stroke-width="0.45" text-anchor="end" fill="#101010">1.5</text>
<line x1="478.38" y1="434.75" x2="636.00" y2="434.75" stroke="#101010" stroke-width="1.25" stroke-linecap="butt"/>
<line x1="505.80" y1="434.60" x2="505.80" y2="437.75" stroke="#101010" stroke-width="1.25" stroke-linecap="butt"/>
<line x1="558.00" y1="434.60" x2="558.00" y2="437.75" stroke="#101010" stroke-width="1.25" stroke-linecap="butt"/>
<line x1="610.00" y1="434.60" x2="610.00" y2="437.75" stroke="#101010" stroke-width="1.25" stroke-linecap="butt"/>
<text x="458.80" y="383.00" font-size="8.2" font-weight="700" stroke="#101010" stroke-width="0.45" text-anchor="middle" transform="rotate(-90 458.80 383.00)" fill="#101010">Relative mRNA level</text>
<text x="505.60" y="446.00" font-size="8.2" font-weight="700" stroke="#101010" stroke-width="0.45" text-anchor="middle" fill="#101010">INF-γ</text>
<text x="557.80" y="446.00" font-size="8.2" font-weight="700" stroke="#101010" stroke-width="0.45" text-anchor="middle" fill="#101010">IL-6</text>
<text x="609.80" y="446.00" font-size="8.2" font-weight="700" stroke="#101010" stroke-width="0.45" text-anchor="middle" fill="#101010">TNF-α</text>
<line x1="496.20" y1="351.00" x2="496.20" y2="365.60" stroke="#101010" stroke-width="1.2" stroke-linecap="butt"/>
<line x1="492.50" y1="351.00" x2="499.90" y2="351.00" stroke="#101010" stroke-width="1.3" stroke-linecap="butt"/>
<rect x="490.20" y="365.60" width="12.00" height="69.00" fill="#fff" stroke="#101010" stroke-width="1.2"/>
<line x1="515.30" y1="408.20" x2="515.30" y2="410.40" stroke="#101010" stroke-width="1.2" stroke-linecap="butt"/>
<line x1="511.60" y1="408.20" x2="519.00" y2="408.20" stroke="#101010" stroke-width="1.3" stroke-linecap="butt"/>
<rect x="509.20" y="410.40" width="12.20" height="24.20" fill="#999999" stroke="#101010" stroke-width="1.2"/>
<line x1="548.10" y1="348.40" x2="548.10" y2="365.60" stroke="#101010" stroke-width="1.2" stroke-linecap="butt"/>
<line x1="544.40" y1="348.40" x2="551.80" y2="348.40" stroke="#101010" stroke-width="1.3" stroke-linecap="butt"/>
<rect x="542.00" y="365.60" width="12.20" height="69.00" fill="#fff" stroke="#101010" stroke-width="1.2"/>
<line x1="567.30" y1="404.60" x2="567.30" y2="408.00" stroke="#101010" stroke-width="1.2" stroke-linecap="butt"/>
<line x1="563.60" y1="404.60" x2="571.00" y2="404.60" stroke="#101010" stroke-width="1.3" stroke-linecap="butt"/>
<rect x="561.20" y="408.00" width="12.20" height="26.60" fill="#999999" stroke="#101010" stroke-width="1.2"/>
<line x1="599.80" y1="350.40" x2="599.80" y2="365.60" stroke="#101010" stroke-width="1.2" stroke-linecap="butt"/>
<line x1="596.10" y1="350.40" x2="603.50" y2="350.40" stroke="#101010" stroke-width="1.3" stroke-linecap="butt"/>
<rect x="593.60" y="365.60" width="12.40" height="69.00" fill="#fff" stroke="#101010" stroke-width="1.2"/>
<line x1="619.20" y1="394.00" x2="619.20" y2="397.00" stroke="#101010" stroke-width="1.2" stroke-linecap="butt"/>
<line x1="615.50" y1="394.00" x2="622.90" y2="394.00" stroke="#101010" stroke-width="1.3" stroke-linecap="butt"/>
<rect x="613.00" y="397.00" width="12.40" height="37.60" fill="#999999" stroke="#101010" stroke-width="1.2"/>
<line x1="494.40" y1="346.60" x2="514.40" y2="346.60" stroke="#101010" stroke-width="1.2" stroke-linecap="butt"/>
<line x1="494.40" y1="343.60" x2="494.40" y2="349.60" stroke="#101010" stroke-width="1.2" stroke-linecap="butt"/>
<line x1="514.40" y1="343.60" x2="514.40" y2="349.60" stroke="#101010" stroke-width="1.2" stroke-linecap="butt"/>
<text x="504.80" y="346.36" font-size="11.5" stroke="#101010" text-anchor="middle" fill="#101010" stroke-width="0.5" letter-spacing="0.9">**</text>
<line x1="548.00" y1="343.60" x2="566.40" y2="343.60" stroke="#101010" stroke-width="1.2" stroke-linecap="butt"/>
<line x1="548.00" y1="340.60" x2="548.00" y2="346.60" stroke="#101010" stroke-width="1.2" stroke-linecap="butt"/>
<line x1="566.40" y1="340.60" x2="566.40" y2="346.60" stroke="#101010" stroke-width="1.2" stroke-linecap="butt"/>
<text x="556.80" y="343.96" font-size="11.5" stroke="#101010" text-anchor="middle" fill="#101010" stroke-width="0.5" letter-spacing="0.9">**</text>
<line x1="598.60" y1="346.00" x2="617.00" y2="346.00" stroke="#101010" stroke-width="1.2" stroke-linecap="butt"/>
<line x1="598.60" y1="343.00" x2="598.60" y2="349.00" stroke="#101010" stroke-width="1.2" stroke-linecap="butt"/>
<line x1="617.00" y1="343.00" x2="617.00" y2="349.00" stroke="#101010" stroke-width="1.2" stroke-linecap="butt"/>
<text x="606.40" y="345.96" font-size="11.5" stroke="#101010" text-anchor="middle" fill="#101010" stroke-width="0.5">*</text>
<rect x="490.15" y="321.35" width="11.10" height="4.70" fill="#fff" stroke="#101010" stroke-width="1.1"/>
<text x="507.40" y="326.20" font-size="8.55" stroke="#101010" stroke-width="0.2" text-anchor="start" fill="#101010">ob/ob shLacZ</text>
<rect x="564.55" y="320.95" width="10.70" height="4.70" fill="#999999" stroke="#101010" stroke-width="1.1"/>
<text x="581.60" y="325.80" font-size="8.4" stroke="#101010" stroke-width="0.2" text-anchor="start" fill="#101010">ob/ob shB4GalT5</text>
</svg>
</body></html>
